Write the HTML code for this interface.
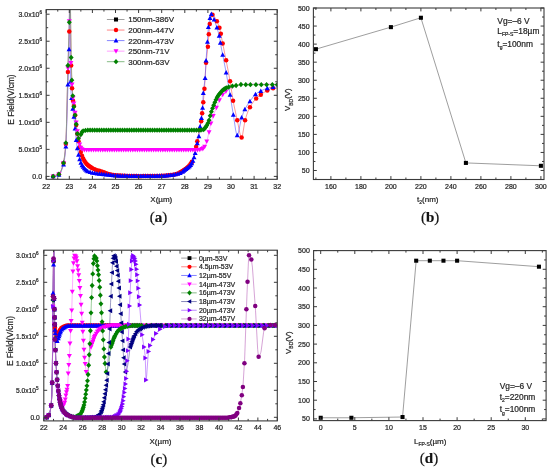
<!DOCTYPE html>
<html><head><meta charset="utf-8"><title>Figure</title>
<style>html,body{margin:0;padding:0;background:#fff;width:550px;height:471px;overflow:hidden}svg{display:block;filter:blur(0.3px)}svg text{stroke:#2a2a2a;stroke-width:0.22px;stroke-linejoin:round}</style>
</head><body>
<svg width="550" height="471" viewBox="0 0 550 471" font-family="'Liberation Sans', Arial, sans-serif">
<rect width="550" height="471" fill="#fff"/>
<defs>
<clipPath id="ca"><rect x="46.2" y="9.6" width="231" height="169.7"/></clipPath>
<clipPath id="cc"><rect x="43.8" y="250.2" width="233.5" height="170.7"/></clipPath>
</defs>
<polyline clip-path="url(#ca)" fill="none" stroke="#f55" stroke-width="0.6" points="53.13,176.4 54.52,176.25 55.9,175.85 58.91,174.24 60.06,172.9 60.98,171.06 62.37,167.12 63.76,161.88 64.68,156.13 65.6,146.91 66.07,139.77 66.53,126.04 67.91,72.04 69.3,31.49 69.99,-18.25 70.22,-10.87 71.15,65.56 72.07,88.27 73,100.7 74.38,109.49 76.23,125.03 78.08,138.47 79.46,146.15 80.85,152.07 82.7,157.57 84.08,160.25 85.47,162.41 86.86,164.13 88.24,165.45 90.55,167.18 92.86,168.52 96.1,169.89 101.64,171.53 109.03,174.09 112.27,174.74 116.89,175.34 125.66,175.84 135.83,176.11 163.09,175.81 167.24,175.51 171.86,174.9 176.02,174.13 177.87,173.48 181.1,171.79 185.26,169.23 188.03,166.91 190.34,164.36 192.19,161.33 193.12,158.8 194.04,155.45 196.81,143.53 199.35,129.9 201.2,121.25 203.74,97.32 204.67,85.41 206.05,62.85 207.9,46.63 209.75,23.92 211.13,17.38 212.06,15.05 212.52,14.73 212.98,14.85 213.91,15.69 215.75,18.9 218.06,23.74 219.91,29.44 228.69,73.4 233.77,104.37 237.47,121.19 239.78,132.78 240.7,136.15 241.16,137.12 241.63,137.47 242.09,136.82 242.55,135.07 244.86,121.1 246.71,114.92 248.09,111.17 249.48,108.08 251.33,104.79 253.18,102.06 255.49,99.27 257.8,97.05 263.34,92.87 266.11,91.04 269.81,89.16 271.66,88.46 273.04,88.27 277.2,88.27"/>
<polyline clip-path="url(#ca)" fill="none" stroke="#55f" stroke-width="0.6" points="53.13,176.4 55.9,175.99 58.91,174.78 60.06,173.64 60.98,171.98 62.37,168.39 63.76,163.57 64.68,158.1 65.6,149.41 66.07,142.95 66.53,131.37 68.84,58.33 69.99,-18.25 70.46,81.78 71.15,93.76 72.53,106.92 73.92,116.92 76.69,143.89 78.77,155.85 80.39,161.6 81.77,164.92 83.16,166.91 85.47,169.64 86.39,170.45 87.78,171.3 89.17,171.92 91.01,172.45 97.48,173.63 114.58,175.54 136.75,176.07 164.47,175.74 174.64,174.57 177.41,174 180.18,173.16 182.03,172.12 188.03,167.48 190.81,164.7 191.73,163.42 192.65,161.54 194.04,157.32 195.43,152.24 198.89,136.39 200.05,126.66 201.43,118 202.59,107.73 203.28,93.13 205.13,77.99 206.05,60.69 208.36,27.17 208.82,23.63 209.75,18.86 210.67,15.45 211.13,14.35 211.36,14.19 212.06,14.73 212.52,15.57 214.83,21.36 218.06,31.36 219.22,35.82 220.84,45.37 225.46,68.91 228.69,86.69 233.77,117.59 235.62,129.95 236.54,134.19 237.01,135.17 237.47,135.2 237.93,134.4 238.39,132.94 241.16,119.15 243.47,112.4 245.32,108.46 247.17,105.3 253.64,96.13 255.49,94.21 257.8,92.58 261.95,90.4 265.19,88.94 271.19,87.34 277.2,87.18"/>
<polyline clip-path="url(#ca)" fill="none" stroke="#f7f" stroke-width="0.6" points="53.13,176.4 54.52,176.25 55.9,175.85 58.91,174.24 60.06,172.9 60.98,171.06 62.37,167.12 63.76,161.88 64.68,156.16 65.6,146.94 66.07,139.69 66.53,125.56 67.91,68.26 68.84,38.8 69.99,-18.25 70.92,62.85 71.61,77.66 72.53,92.16 73,98 74.38,106.79 76.23,122.33 78.08,135.84 79.93,145.29 80.39,146.66 81.31,148.45 82.24,149.36 84.08,149.8 85.47,149.91 198.66,149.91 200.51,149.53 202.36,148.71 203.74,147.69 204.67,146.66 205.59,144.85 207.44,139.08 211.13,122.53 213.91,113.95 218.53,102.27 219.91,99.25 222.22,95.37 223.61,93.67 225.46,91.9 228.69,89.47 231.46,88.08 237.93,85.56 241.16,84.74 244.4,84.19 247.17,83.94 277.2,83.94"/>
<polyline clip-path="url(#ca)" fill="none" stroke="#5a5" stroke-width="0.6" points="53.13,176.4 55.44,176.01 57.75,174.96 59.14,174.06 60.52,172.08 62.37,167.16 63.76,161.85 65.14,151.43 66.07,138.4 66.53,123.65 67.91,65.56 69.3,22.3 69.99,-18.25 70.22,-11.95 71.15,57.45 72.07,85.05 72.76,95.84 73.92,106.67 77.15,132.2 78.08,136.99 78.54,138.35 78.77,138.55 79.46,138.09 79.93,137.47 81.31,133.14 82.7,131.26 84.55,130.57 86.86,130.2 198.66,130.17 202.82,129.85 203.74,129.35 205.13,127.88 206.98,125.2 207.9,123.28 209.29,119.43 210.67,113.95 212.06,109.65 214.83,102.33 217.14,97.32 218.99,94.55 221.76,91.28 223.15,89.89 224.99,88.6 227.3,87.44 229.61,86.7 236.08,85.56 240.7,84.49 245.78,84.64 277.2,84.64"/>
<g clip-path="url(#ca)"><circle cx="53.13" cy="176.4" r="2.25" fill="#f00"/><circle cx="58.91" cy="174.24" r="2.25" fill="#f00"/><circle cx="63.53" cy="162.88" r="2.25" fill="#f00"/><circle cx="65.84" cy="143.96" r="2.25" fill="#f00"/><circle cx="67.91" cy="72.04" r="2.25" fill="#f00"/><circle cx="69.3" cy="31.49" r="2.25" fill="#f00"/><circle cx="71.15" cy="65.56" r="2.25" fill="#f00"/><circle cx="72.07" cy="88.27" r="2.25" fill="#f00"/><circle cx="73" cy="100.7" r="2.25" fill="#f00"/><circle cx="73.92" cy="106.11" r="2.25" fill="#f00"/><circle cx="75.08" cy="115.31" r="2.25" fill="#f00"/><circle cx="76.23" cy="125.03" r="2.25" fill="#f00"/><circle cx="77.39" cy="133.71" r="2.25" fill="#f00"/><circle cx="78.54" cy="141.25" r="2.25" fill="#f00"/><circle cx="79.7" cy="147.27" r="2.25" fill="#f00"/><circle cx="80.85" cy="152.07" r="2.25" fill="#f00"/><circle cx="82.01" cy="155.77" r="2.25" fill="#f00"/><circle cx="83.16" cy="158.56" r="2.25" fill="#f00"/><circle cx="84.32" cy="160.64" r="2.25" fill="#f00"/><circle cx="85.47" cy="162.41" r="2.25" fill="#f00"/><circle cx="86.63" cy="163.88" r="2.25" fill="#f00"/><circle cx="87.78" cy="165.05" r="2.25" fill="#f00"/><circle cx="88.94" cy="166.01" r="2.25" fill="#f00"/><circle cx="90.09" cy="166.86" r="2.25" fill="#f00"/><circle cx="91.25" cy="167.62" r="2.25" fill="#f00"/><circle cx="92.4" cy="168.28" r="2.25" fill="#f00"/><circle cx="94.71" cy="169.37" r="2.25" fill="#f00"/><circle cx="97.02" cy="170.2" r="2.25" fill="#f00"/><circle cx="99.33" cy="170.86" r="2.25" fill="#f00"/><circle cx="101.64" cy="171.53" r="2.25" fill="#f00"/><circle cx="103.95" cy="172.34" r="2.25" fill="#f00"/><circle cx="106.26" cy="173.19" r="2.25" fill="#f00"/><circle cx="108.57" cy="173.96" r="2.25" fill="#f00"/><circle cx="110.88" cy="174.51" r="2.25" fill="#f00"/><circle cx="113.19" cy="174.88" r="2.25" fill="#f00"/><circle cx="115.5" cy="175.19" r="2.25" fill="#f00"/><circle cx="117.81" cy="175.43" r="2.25" fill="#f00"/><circle cx="120.12" cy="175.59" r="2.25" fill="#f00"/><circle cx="122.43" cy="175.7" r="2.25" fill="#f00"/><circle cx="124.74" cy="175.8" r="2.25" fill="#f00"/><circle cx="127.05" cy="175.9" r="2.25" fill="#f00"/><circle cx="129.36" cy="175.98" r="2.25" fill="#f00"/><circle cx="131.67" cy="176.04" r="2.25" fill="#f00"/><circle cx="133.98" cy="176.09" r="2.25" fill="#f00"/><circle cx="136.29" cy="176.12" r="2.25" fill="#f00"/><circle cx="138.6" cy="176.13" r="2.25" fill="#f00"/><circle cx="140.91" cy="176.13" r="2.25" fill="#f00"/><circle cx="143.22" cy="176.12" r="2.25" fill="#f00"/><circle cx="145.53" cy="176.1" r="2.25" fill="#f00"/><circle cx="147.84" cy="176.09" r="2.25" fill="#f00"/><circle cx="150.15" cy="176.06" r="2.25" fill="#f00"/><circle cx="152.46" cy="176.03" r="2.25" fill="#f00"/><circle cx="154.77" cy="176" r="2.25" fill="#f00"/><circle cx="157.08" cy="175.95" r="2.25" fill="#f00"/><circle cx="159.39" cy="175.91" r="2.25" fill="#f00"/><circle cx="161.7" cy="175.86" r="2.25" fill="#f00"/><circle cx="164.01" cy="175.77" r="2.25" fill="#f00"/><circle cx="166.32" cy="175.6" r="2.25" fill="#f00"/><circle cx="168.63" cy="175.36" r="2.25" fill="#f00"/><circle cx="170.94" cy="175.05" r="2.25" fill="#f00"/><circle cx="173.25" cy="174.67" r="2.25" fill="#f00"/><circle cx="175.56" cy="174.24" r="2.25" fill="#f00"/><circle cx="177.87" cy="173.48" r="2.25" fill="#f00"/><circle cx="180.18" cy="172.32" r="2.25" fill="#f00"/><circle cx="181.34" cy="171.66" r="2.25" fill="#f00"/><circle cx="182.49" cy="170.99" r="2.25" fill="#f00"/><circle cx="183.65" cy="170.31" r="2.25" fill="#f00"/><circle cx="184.8" cy="169.56" r="2.25" fill="#f00"/><circle cx="185.96" cy="168.71" r="2.25" fill="#f00"/><circle cx="187.11" cy="167.75" r="2.25" fill="#f00"/><circle cx="188.27" cy="166.69" r="2.25" fill="#f00"/><circle cx="189.42" cy="165.49" r="2.25" fill="#f00"/><circle cx="190.58" cy="164.04" r="2.25" fill="#f00"/><circle cx="191.73" cy="162.22" r="2.25" fill="#f00"/><circle cx="191.96" cy="161.8" r="2.25" fill="#f00"/><circle cx="196.12" cy="146.66" r="2.25" fill="#f00"/><circle cx="197.27" cy="141.25" r="2.25" fill="#f00"/><circle cx="199.35" cy="129.9" r="2.25" fill="#f00"/><circle cx="201.2" cy="121.25" r="2.25" fill="#f00"/><circle cx="202.12" cy="113.14" r="2.25" fill="#f00"/><circle cx="203.28" cy="102.32" r="2.25" fill="#f00"/><circle cx="204.44" cy="88.81" r="2.25" fill="#f00"/><circle cx="206.05" cy="62.85" r="2.25" fill="#f00"/><circle cx="207.9" cy="46.63" r="2.25" fill="#f00"/><circle cx="208.82" cy="34.2" r="2.25" fill="#f00"/><circle cx="209.75" cy="23.92" r="2.25" fill="#f00"/><circle cx="212.52" cy="14.73" r="2.25" fill="#f00"/><circle cx="216.91" cy="21.22" r="2.25" fill="#f00"/><circle cx="219.45" cy="27.71" r="2.25" fill="#f00"/><circle cx="220.84" cy="33.66" r="2.25" fill="#f00"/><circle cx="222.68" cy="43.39" r="2.25" fill="#f00"/><circle cx="226.15" cy="60.15" r="2.25" fill="#f00"/><circle cx="230.08" cy="81.24" r="2.25" fill="#f00"/><circle cx="233.08" cy="100.7" r="2.25" fill="#f00"/><circle cx="237.24" cy="120.17" r="2.25" fill="#f00"/><circle cx="241.63" cy="137.47" r="2.25" fill="#f00"/><circle cx="245.09" cy="120.17" r="2.25" fill="#f00"/><circle cx="249.94" cy="107.19" r="2.25" fill="#f00"/><circle cx="256.18" cy="98.54" r="2.25" fill="#f00"/><circle cx="260.8" cy="94.75" r="2.25" fill="#f00"/><circle cx="267.27" cy="90.43" r="2.25" fill="#f00"/><circle cx="273.04" cy="88.27" r="2.25" fill="#f00"/></g>
<g clip-path="url(#ca)"><path d="M53.13 173.81L55.61 178.31L50.66 178.31Z" fill="#00f"/><path d="M58.91 172.19L61.38 176.69L56.43 176.69Z" fill="#00f"/><path d="M63.53 161.92L66 166.42L61.05 166.42Z" fill="#00f"/><path d="M65.84 144.07L68.31 148.57L63.36 148.57Z" fill="#00f"/><path d="M67.91 81.89L70.39 86.39L65.44 86.39Z" fill="#00f"/><path d="M69.07 46.75L71.54 51.25L66.59 51.25Z" fill="#00f"/><path d="M70.46 79.19L72.93 83.69L67.98 83.69Z" fill="#00f"/><path d="M71.61 95.41L74.09 99.91L69.14 99.91Z" fill="#00f"/><path d="M72.76 106.22L75.24 110.72L70.29 110.72Z" fill="#00f"/><path d="M73.92 114.34L76.39 118.84L71.44 118.84Z" fill="#00f"/><path d="M75.08 126.12L77.55 130.62L72.6 130.62Z" fill="#00f"/><path d="M76.23 137.45L78.71 141.95L73.76 141.95Z" fill="#00f"/><path d="M77.39 145.85L79.86 150.35L74.91 150.35Z" fill="#00f"/><path d="M78.54 152.17L81.02 156.67L76.07 156.67Z" fill="#00f"/><path d="M79.7 156.84L82.17 161.34L77.22 161.34Z" fill="#00f"/><path d="M80.85 160.32L83.33 164.82L78.38 164.82Z" fill="#00f"/><path d="M82.01 162.72L84.48 167.22L79.53 167.22Z" fill="#00f"/><path d="M83.16 164.32L85.64 168.82L80.69 168.82Z" fill="#00f"/><path d="M84.32 165.72L86.79 170.22L81.84 170.22Z" fill="#00f"/><path d="M85.47 167.05L87.95 171.55L83 171.55Z" fill="#00f"/><path d="M86.63 168.02L89.1 172.52L84.15 172.52Z" fill="#00f"/><path d="M87.78 168.71L90.26 173.21L85.31 173.21Z" fill="#00f"/><path d="M90.09 169.62L92.57 174.12L87.62 174.12Z" fill="#00f"/><path d="M92.4 170.15L94.88 174.65L89.93 174.65Z" fill="#00f"/><path d="M94.71 170.57L97.19 175.07L92.24 175.07Z" fill="#00f"/><path d="M97.02 170.97L99.5 175.47L94.55 175.47Z" fill="#00f"/><path d="M99.33 171.32L101.81 175.82L96.86 175.82Z" fill="#00f"/><path d="M101.64 171.59L104.12 176.09L99.17 176.09Z" fill="#00f"/><path d="M103.95 171.82L106.43 176.32L101.48 176.32Z" fill="#00f"/><path d="M106.26 172.05L108.74 176.55L103.79 176.55Z" fill="#00f"/><path d="M108.57 172.32L111.05 176.82L106.1 176.82Z" fill="#00f"/><path d="M110.88 172.61L113.36 177.11L108.41 177.11Z" fill="#00f"/><path d="M113.19 172.85L115.67 177.35L110.72 177.35Z" fill="#00f"/><path d="M115.5 173L117.98 177.5L113.03 177.5Z" fill="#00f"/><path d="M117.81 173.09L120.29 177.59L115.34 177.59Z" fill="#00f"/><path d="M120.12 173.17L122.6 177.67L117.65 177.67Z" fill="#00f"/><path d="M122.43 173.24L124.91 177.74L119.96 177.74Z" fill="#00f"/><path d="M124.74 173.3L127.22 177.8L122.27 177.8Z" fill="#00f"/><path d="M127.05 173.36L129.53 177.86L124.58 177.86Z" fill="#00f"/><path d="M129.36 173.4L131.84 177.9L126.89 177.9Z" fill="#00f"/><path d="M131.67 173.44L134.15 177.94L129.2 177.94Z" fill="#00f"/><path d="M133.98 173.47L136.46 177.97L131.51 177.97Z" fill="#00f"/><path d="M136.29 173.48L138.77 177.98L133.82 177.98Z" fill="#00f"/><path d="M138.6 173.49L141.08 177.99L136.13 177.99Z" fill="#00f"/><path d="M140.91 173.49L143.39 177.99L138.44 177.99Z" fill="#00f"/><path d="M143.22 173.48L145.7 177.98L140.75 177.98Z" fill="#00f"/><path d="M145.53 173.47L148.01 177.97L143.06 177.97Z" fill="#00f"/><path d="M147.84 173.45L150.32 177.95L145.37 177.95Z" fill="#00f"/><path d="M150.15 173.43L152.63 177.93L147.68 177.93Z" fill="#00f"/><path d="M152.46 173.41L154.94 177.91L149.99 177.91Z" fill="#00f"/><path d="M154.77 173.38L157.25 177.88L152.3 177.88Z" fill="#00f"/><path d="M157.08 173.35L159.56 177.85L154.61 177.85Z" fill="#00f"/><path d="M159.39 173.31L161.87 177.81L156.92 177.81Z" fill="#00f"/><path d="M161.7 173.27L164.18 177.77L159.23 177.77Z" fill="#00f"/><path d="M164.01 173.18L166.49 177.68L161.54 177.68Z" fill="#00f"/><path d="M166.32 173.01L168.8 177.51L163.85 177.51Z" fill="#00f"/><path d="M168.63 172.78L171.11 177.28L166.16 177.28Z" fill="#00f"/><path d="M170.94 172.5L173.42 177L168.47 177Z" fill="#00f"/><path d="M173.25 172.19L175.73 176.69L170.78 176.69Z" fill="#00f"/><path d="M175.56 171.81L178.04 176.31L173.09 176.31Z" fill="#00f"/><path d="M177.87 171.29L180.35 175.79L175.4 175.79Z" fill="#00f"/><path d="M180.18 170.57L182.66 175.07L177.71 175.07Z" fill="#00f"/><path d="M182.49 169.2L184.97 173.7L180.02 173.7Z" fill="#00f"/><path d="M183.65 168.27L186.12 172.77L181.17 172.77Z" fill="#00f"/><path d="M184.8 167.32L187.28 171.82L182.33 171.82Z" fill="#00f"/><path d="M185.96 166.45L188.43 170.95L183.48 170.95Z" fill="#00f"/><path d="M187.11 165.6L189.59 170.1L184.64 170.1Z" fill="#00f"/><path d="M188.27 164.7L190.74 169.2L185.79 169.2Z" fill="#00f"/><path d="M189.42 163.66L191.9 168.16L186.95 168.16Z" fill="#00f"/><path d="M190.58 162.4L193.05 166.9L188.1 166.9Z" fill="#00f"/><path d="M191.73 160.84L194.21 165.34L189.26 165.34Z" fill="#00f"/><path d="M192.89 158.35L195.36 162.85L190.41 162.85Z" fill="#00f"/><path d="M194.04 154.74L196.52 159.24L191.57 159.24Z" fill="#00f"/><path d="M195.19 150.56L197.67 155.06L192.72 155.06Z" fill="#00f"/><path d="M197.27 140.83L199.75 145.33L194.8 145.33Z" fill="#00f"/><path d="M198.89 133.8L201.37 138.3L196.42 138.3Z" fill="#00f"/><path d="M200.05 124.07L202.52 128.57L197.57 128.57Z" fill="#00f"/><path d="M201.43 115.42L203.91 119.92L198.96 119.92Z" fill="#00f"/><path d="M202.59 105.14L205.06 109.64L200.11 109.64Z" fill="#00f"/><path d="M203.28 90.54L205.76 95.04L200.81 95.04Z" fill="#00f"/><path d="M205.13 75.41L207.6 79.91L202.65 79.91Z" fill="#00f"/><path d="M206.05 58.1L208.53 62.6L203.58 62.6Z" fill="#00f"/><path d="M207.44 39.18L209.91 43.68L204.96 43.68Z" fill="#00f"/><path d="M208.36 24.58L210.84 29.08L205.89 29.08Z" fill="#00f"/><path d="M209.98 15.39L212.45 19.89L207.5 19.89Z" fill="#00f"/><path d="M211.36 11.6L213.84 16.1L208.89 16.1Z" fill="#00f"/><path d="M214.14 17.01L216.61 21.51L211.66 21.51Z" fill="#00f"/><path d="M216.91 25.12L219.38 29.62L214.43 29.62Z" fill="#00f"/><path d="M219.22 33.23L221.69 37.73L216.74 37.73Z" fill="#00f"/><path d="M220.37 40.26L222.85 44.76L217.9 44.76Z" fill="#00f"/><path d="M222.68 52.16L225.16 56.66L220.21 56.66Z" fill="#00f"/><path d="M226.15 70L228.62 74.5L223.67 74.5Z" fill="#00f"/><path d="M230.08 92.17L232.55 96.67L227.6 96.67Z" fill="#00f"/><path d="M233.31 112.17L235.79 116.67L230.84 116.67Z" fill="#00f"/><path d="M237.24 132.72L239.71 137.22L234.76 137.22Z" fill="#00f"/><path d="M241.63 114.88L244.1 119.38L239.15 119.38Z" fill="#00f"/><path d="M244.86 106.77L247.34 111.27L242.39 111.27Z" fill="#00f"/><path d="M249.94 98.66L252.42 103.16L247.47 103.16Z" fill="#00f"/><path d="M255.49 91.63L257.96 96.13L253.01 96.13Z" fill="#00f"/><path d="M260.8 88.38L263.27 92.88L258.32 92.88Z" fill="#00f"/><path d="M267.27 85.68L269.74 90.18L264.79 90.18Z" fill="#00f"/><path d="M273.04 84.6L275.52 89.1L270.57 89.1Z" fill="#00f"/></g>
<g clip-path="url(#ca)"><path d="M53.13 178.99L55.61 174.49L50.66 174.49Z" fill="#f0f"/><path d="M58.91 176.82L61.38 172.32L56.43 172.32Z" fill="#f0f"/><path d="M63.53 165.47L66 160.97L61.05 160.97Z" fill="#f0f"/><path d="M65.84 146.55L68.31 142.05L63.36 142.05Z" fill="#f0f"/><path d="M67.91 70.85L70.39 66.35L65.44 66.35Z" fill="#f0f"/><path d="M69.3 23.81L71.78 19.31L66.83 19.31Z" fill="#f0f"/><path d="M70.92 65.44L73.39 60.94L68.44 60.94Z" fill="#f0f"/><path d="M72.07 87.07L74.55 82.57L69.6 82.57Z" fill="#f0f"/><path d="M73 100.59L75.47 96.09L70.52 96.09Z" fill="#f0f"/><path d="M73.92 105.99L76.39 101.49L71.44 101.49Z" fill="#f0f"/><path d="M75.08 115.2L77.55 110.7L72.6 110.7Z" fill="#f0f"/><path d="M76.23 124.92L78.71 120.42L73.76 120.42Z" fill="#f0f"/><path d="M77.39 133.67L79.86 129.17L74.91 129.17Z" fill="#f0f"/><path d="M78.54 141.14L81.02 136.64L76.07 136.64Z" fill="#f0f"/><path d="M79.7 146.96L82.17 142.46L77.22 142.46Z" fill="#f0f"/><path d="M80.85 150.21L83.33 145.71L78.38 145.71Z" fill="#f0f"/><path d="M82.01 151.83L84.48 147.33L79.53 147.33Z" fill="#f0f"/><path d="M84.32 152.42L86.79 147.92L81.84 147.92Z" fill="#f0f"/><path d="M86.63 152.49L89.1 147.99L84.15 147.99Z" fill="#f0f"/><path d="M88.94 152.49L91.41 147.99L86.46 147.99Z" fill="#f0f"/><path d="M91.25 152.49L93.72 147.99L88.77 147.99Z" fill="#f0f"/><path d="M93.56 152.49L96.03 147.99L91.08 147.99Z" fill="#f0f"/><path d="M95.87 152.49L98.34 147.99L93.39 147.99Z" fill="#f0f"/><path d="M98.18 152.49L100.65 147.99L95.7 147.99Z" fill="#f0f"/><path d="M100.49 152.49L102.96 147.99L98.01 147.99Z" fill="#f0f"/><path d="M102.8 152.49L105.27 147.99L100.32 147.99Z" fill="#f0f"/><path d="M105.11 152.49L107.58 147.99L102.63 147.99Z" fill="#f0f"/><path d="M107.42 152.49L109.89 147.99L104.94 147.99Z" fill="#f0f"/><path d="M109.73 152.49L112.2 147.99L107.25 147.99Z" fill="#f0f"/><path d="M112.04 152.49L114.51 147.99L109.56 147.99Z" fill="#f0f"/><path d="M114.35 152.49L116.82 147.99L111.87 147.99Z" fill="#f0f"/><path d="M116.66 152.49L119.13 147.99L114.18 147.99Z" fill="#f0f"/><path d="M118.97 152.49L121.44 147.99L116.49 147.99Z" fill="#f0f"/><path d="M121.28 152.49L123.75 147.99L118.8 147.99Z" fill="#f0f"/><path d="M123.59 152.49L126.06 147.99L121.11 147.99Z" fill="#f0f"/><path d="M125.9 152.49L128.37 147.99L123.42 147.99Z" fill="#f0f"/><path d="M128.21 152.49L130.68 147.99L125.73 147.99Z" fill="#f0f"/><path d="M130.52 152.49L132.99 147.99L128.04 147.99Z" fill="#f0f"/><path d="M132.83 152.49L135.3 147.99L130.35 147.99Z" fill="#f0f"/><path d="M135.14 152.49L137.61 147.99L132.66 147.99Z" fill="#f0f"/><path d="M137.45 152.49L139.92 147.99L134.97 147.99Z" fill="#f0f"/><path d="M139.76 152.49L142.23 147.99L137.28 147.99Z" fill="#f0f"/><path d="M142.07 152.49L144.54 147.99L139.59 147.99Z" fill="#f0f"/><path d="M144.38 152.49L146.85 147.99L141.9 147.99Z" fill="#f0f"/><path d="M146.69 152.49L149.16 147.99L144.21 147.99Z" fill="#f0f"/><path d="M149 152.49L151.47 147.99L146.52 147.99Z" fill="#f0f"/><path d="M151.31 152.49L153.78 147.99L148.83 147.99Z" fill="#f0f"/><path d="M153.62 152.49L156.09 147.99L151.14 147.99Z" fill="#f0f"/><path d="M155.93 152.49L158.4 147.99L153.45 147.99Z" fill="#f0f"/><path d="M158.24 152.49L160.71 147.99L155.76 147.99Z" fill="#f0f"/><path d="M160.55 152.49L163.02 147.99L158.07 147.99Z" fill="#f0f"/><path d="M162.86 152.49L165.33 147.99L160.38 147.99Z" fill="#f0f"/><path d="M165.17 152.49L167.64 147.99L162.69 147.99Z" fill="#f0f"/><path d="M167.48 152.49L169.95 147.99L165 147.99Z" fill="#f0f"/><path d="M169.79 152.49L172.26 147.99L167.31 147.99Z" fill="#f0f"/><path d="M172.1 152.49L174.57 147.99L169.62 147.99Z" fill="#f0f"/><path d="M174.41 152.49L176.88 147.99L171.93 147.99Z" fill="#f0f"/><path d="M176.72 152.49L179.19 147.99L174.24 147.99Z" fill="#f0f"/><path d="M179.03 152.49L181.5 147.99L176.55 147.99Z" fill="#f0f"/><path d="M181.34 152.49L183.81 147.99L178.86 147.99Z" fill="#f0f"/><path d="M183.65 152.49L186.12 147.99L181.17 147.99Z" fill="#f0f"/><path d="M185.96 152.49L188.43 147.99L183.48 147.99Z" fill="#f0f"/><path d="M188.27 152.49L190.74 147.99L185.79 147.99Z" fill="#f0f"/><path d="M190.58 152.49L193.05 147.99L188.1 147.99Z" fill="#f0f"/><path d="M192.89 152.49L195.36 147.99L190.41 147.99Z" fill="#f0f"/><path d="M195.2 152.49L197.67 147.99L192.72 147.99Z" fill="#f0f"/><path d="M197.51 152.49L199.98 147.99L195.03 147.99Z" fill="#f0f"/><path d="M199.82 152.33L202.29 147.83L197.34 147.83Z" fill="#f0f"/><path d="M202.13 151.41L204.6 146.91L199.65 146.91Z" fill="#f0f"/><path d="M203.28 150.69L205.76 146.19L200.81 146.19Z" fill="#f0f"/><path d="M204.67 149.25L207.14 144.75L202.19 144.75Z" fill="#f0f"/><path d="M206.75 144.11L209.22 139.61L204.27 139.61Z" fill="#f0f"/><path d="M209.06 134.65L211.53 130.15L206.58 130.15Z" fill="#f0f"/><path d="M210.9 126L213.38 121.5L208.43 121.5Z" fill="#f0f"/><path d="M213.21 118.43L215.69 113.93L210.74 113.93Z" fill="#f0f"/><path d="M216.45 110.32L218.92 105.82L213.97 105.82Z" fill="#f0f"/><path d="M219.45 102.75L221.92 98.25L216.97 98.25Z" fill="#f0f"/><path d="M222.68 97.34L225.16 92.84L220.21 92.84Z" fill="#f0f"/><path d="M225.92 94.1L228.39 89.6L223.44 89.6Z" fill="#f0f"/></g>
<g clip-path="url(#ca)"><path d="M53.13 173.7L55.61 176.4L53.13 179.1L50.66 176.4Z" fill="#008000"/><path d="M58.91 171.54L61.38 174.24L58.91 176.94L56.43 174.24Z" fill="#008000"/><path d="M63.53 160.18L66 162.88L63.53 165.58L61.05 162.88Z" fill="#008000"/><path d="M65.84 140.18L68.31 142.88L65.84 145.58L63.36 142.88Z" fill="#008000"/><path d="M67.91 62.86L70.39 65.56L67.91 68.26L65.44 65.56Z" fill="#008000"/><path d="M69.3 19.6L71.78 22.3L69.3 25L66.83 22.3Z" fill="#008000"/><path d="M71.15 54.75L73.62 57.45L71.15 60.15L68.67 57.45Z" fill="#008000"/><path d="M71.84 77.46L74.32 80.16L71.84 82.86L69.37 80.16Z" fill="#008000"/><path d="M72.76 93.14L75.24 95.84L72.76 98.54L70.29 95.84Z" fill="#008000"/><path d="M73.92 103.97L76.39 106.67L73.92 109.37L71.44 106.67Z" fill="#008000"/><path d="M75.08 112.41L77.55 115.11L75.08 117.81L72.6 115.11Z" fill="#008000"/><path d="M76.23 121.56L78.71 124.26L76.23 126.96L73.76 124.26Z" fill="#008000"/><path d="M77.39 130.98L79.86 133.68L77.39 136.38L74.91 133.68Z" fill="#008000"/><path d="M78.54 135.65L81.02 138.35L78.54 141.05L76.07 138.35Z" fill="#008000"/><path d="M80.85 131.78L83.33 134.48L80.85 137.18L78.38 134.48Z" fill="#008000"/><path d="M82.01 129.34L84.48 132.04L82.01 134.74L79.53 132.04Z" fill="#008000"/><path d="M83.16 128.28L85.64 130.98L83.16 133.68L80.69 130.98Z" fill="#008000"/><path d="M85.47 127.68L87.95 130.38L85.47 133.08L83 130.38Z" fill="#008000"/><path d="M87.78 127.47L90.26 130.17L87.78 132.87L85.31 130.17Z" fill="#008000"/><path d="M90.09 127.47L92.57 130.17L90.09 132.87L87.62 130.17Z" fill="#008000"/><path d="M92.4 127.47L94.88 130.17L92.4 132.87L89.93 130.17Z" fill="#008000"/><path d="M94.71 127.47L97.19 130.17L94.71 132.87L92.24 130.17Z" fill="#008000"/><path d="M97.02 127.47L99.5 130.17L97.02 132.87L94.55 130.17Z" fill="#008000"/><path d="M99.33 127.47L101.81 130.17L99.33 132.87L96.86 130.17Z" fill="#008000"/><path d="M101.64 127.47L104.12 130.17L101.64 132.87L99.17 130.17Z" fill="#008000"/><path d="M103.95 127.47L106.43 130.17L103.95 132.87L101.48 130.17Z" fill="#008000"/><path d="M106.26 127.47L108.74 130.17L106.26 132.87L103.79 130.17Z" fill="#008000"/><path d="M108.57 127.47L111.05 130.17L108.57 132.87L106.1 130.17Z" fill="#008000"/><path d="M110.88 127.47L113.36 130.17L110.88 132.87L108.41 130.17Z" fill="#008000"/><path d="M113.19 127.47L115.67 130.17L113.19 132.87L110.72 130.17Z" fill="#008000"/><path d="M115.5 127.47L117.98 130.17L115.5 132.87L113.03 130.17Z" fill="#008000"/><path d="M117.81 127.47L120.29 130.17L117.81 132.87L115.34 130.17Z" fill="#008000"/><path d="M120.12 127.47L122.6 130.17L120.12 132.87L117.65 130.17Z" fill="#008000"/><path d="M122.43 127.47L124.91 130.17L122.43 132.87L119.96 130.17Z" fill="#008000"/><path d="M124.74 127.47L127.22 130.17L124.74 132.87L122.27 130.17Z" fill="#008000"/><path d="M127.05 127.47L129.53 130.17L127.05 132.87L124.58 130.17Z" fill="#008000"/><path d="M129.36 127.47L131.84 130.17L129.36 132.87L126.89 130.17Z" fill="#008000"/><path d="M131.67 127.47L134.15 130.17L131.67 132.87L129.2 130.17Z" fill="#008000"/><path d="M133.98 127.47L136.46 130.17L133.98 132.87L131.51 130.17Z" fill="#008000"/><path d="M136.29 127.47L138.77 130.17L136.29 132.87L133.82 130.17Z" fill="#008000"/><path d="M138.6 127.47L141.08 130.17L138.6 132.87L136.13 130.17Z" fill="#008000"/><path d="M140.91 127.47L143.39 130.17L140.91 132.87L138.44 130.17Z" fill="#008000"/><path d="M143.22 127.47L145.7 130.17L143.22 132.87L140.75 130.17Z" fill="#008000"/><path d="M145.53 127.47L148.01 130.17L145.53 132.87L143.06 130.17Z" fill="#008000"/><path d="M147.84 127.47L150.32 130.17L147.84 132.87L145.37 130.17Z" fill="#008000"/><path d="M150.15 127.47L152.63 130.17L150.15 132.87L147.68 130.17Z" fill="#008000"/><path d="M152.46 127.47L154.94 130.17L152.46 132.87L149.99 130.17Z" fill="#008000"/><path d="M154.77 127.47L157.25 130.17L154.77 132.87L152.3 130.17Z" fill="#008000"/><path d="M157.08 127.47L159.56 130.17L157.08 132.87L154.61 130.17Z" fill="#008000"/><path d="M159.39 127.47L161.87 130.17L159.39 132.87L156.92 130.17Z" fill="#008000"/><path d="M161.7 127.47L164.18 130.17L161.7 132.87L159.23 130.17Z" fill="#008000"/><path d="M164.01 127.47L166.49 130.17L164.01 132.87L161.54 130.17Z" fill="#008000"/><path d="M166.32 127.47L168.8 130.17L166.32 132.87L163.85 130.17Z" fill="#008000"/><path d="M168.63 127.47L171.11 130.17L168.63 132.87L166.16 130.17Z" fill="#008000"/><path d="M170.94 127.47L173.42 130.17L170.94 132.87L168.47 130.17Z" fill="#008000"/><path d="M173.25 127.47L175.73 130.17L173.25 132.87L170.78 130.17Z" fill="#008000"/><path d="M175.56 127.47L178.04 130.17L175.56 132.87L173.09 130.17Z" fill="#008000"/><path d="M177.87 127.47L180.35 130.17L177.87 132.87L175.4 130.17Z" fill="#008000"/><path d="M180.18 127.47L182.66 130.17L180.18 132.87L177.71 130.17Z" fill="#008000"/><path d="M182.49 127.47L184.97 130.17L182.49 132.87L180.02 130.17Z" fill="#008000"/><path d="M184.8 127.47L187.28 130.17L184.8 132.87L182.33 130.17Z" fill="#008000"/><path d="M187.11 127.47L189.59 130.17L187.11 132.87L184.64 130.17Z" fill="#008000"/><path d="M189.42 127.47L191.9 130.17L189.42 132.87L186.95 130.17Z" fill="#008000"/><path d="M191.73 127.47L194.21 130.17L191.73 132.87L189.26 130.17Z" fill="#008000"/><path d="M194.04 127.47L196.52 130.17L194.04 132.87L191.57 130.17Z" fill="#008000"/><path d="M196.35 127.47L198.83 130.17L196.35 132.87L193.88 130.17Z" fill="#008000"/><path d="M198.66 127.47L201.14 130.17L198.66 132.87L196.19 130.17Z" fill="#008000"/><path d="M200.97 127.37L203.45 130.07L200.97 132.77L198.5 130.07Z" fill="#008000"/><path d="M203.28 126.96L205.76 129.66L203.28 132.36L200.81 129.66Z" fill="#008000"/><path d="M204.44 126.01L206.91 128.71L204.44 131.41L201.96 128.71Z" fill="#008000"/><path d="M205.59 124.56L208.07 127.26L205.59 129.96L203.12 127.26Z" fill="#008000"/><path d="M206.75 122.87L209.22 125.57L206.75 128.27L204.27 125.57Z" fill="#008000"/><path d="M207.9 120.58L210.38 123.28L207.9 125.98L205.43 123.28Z" fill="#008000"/><path d="M209.06 117.47L211.53 120.17L209.06 122.87L206.58 120.17Z" fill="#008000"/><path d="M210.21 113.08L212.69 115.78L210.21 118.48L207.74 115.78Z" fill="#008000"/><path d="M211.37 108.97L213.84 111.67L211.37 114.37L208.89 111.67Z" fill="#008000"/><path d="M212.52 105.66L215 108.36L212.52 111.06L210.05 108.36Z" fill="#008000"/><path d="M213.68 102.55L216.15 105.25L213.68 107.95L211.2 105.25Z" fill="#008000"/><path d="M214.83 99.63L217.31 102.33L214.83 105.03L212.36 102.33Z" fill="#008000"/><path d="M215.99 96.97L218.46 99.67L215.99 102.37L213.51 99.67Z" fill="#008000"/><path d="M217.14 94.62L219.62 97.32L217.14 100.02L214.67 97.32Z" fill="#008000"/><path d="M218.3 92.8L220.77 95.5L218.3 98.2L215.82 95.5Z" fill="#008000"/><path d="M219.45 91.26L221.93 93.96L219.45 96.66L216.98 93.96Z" fill="#008000"/><path d="M220.61 89.89L223.08 92.59L220.61 95.29L218.13 92.59Z" fill="#008000"/><path d="M221.76 88.58L224.24 91.28L221.76 93.98L219.29 91.28Z" fill="#008000"/><path d="M222.92 87.4L225.39 90.1L222.92 92.8L220.44 90.1Z" fill="#008000"/><path d="M224.07 86.49L226.55 89.19L224.07 91.89L221.6 89.19Z" fill="#008000"/><path d="M225.23 85.76L227.7 88.46L225.23 91.16L222.75 88.46Z" fill="#008000"/><path d="M226.38 85.15L228.86 87.85L226.38 90.55L223.91 87.85Z" fill="#008000"/><path d="M228.69 84.26L231.17 86.96L228.69 89.66L226.22 86.96Z" fill="#008000"/><path d="M232.39 83.4L234.86 86.1L232.39 88.8L229.91 86.1Z" fill="#008000"/><path d="M236.08 82.86L238.56 85.56L236.08 88.26L233.61 85.56Z" fill="#008000"/><path d="M240.93 81.78L243.41 84.48L240.93 87.18L238.46 84.48Z" fill="#008000"/><path d="M245.78 81.94L248.26 84.64L245.78 87.34L243.31 84.64Z" fill="#008000"/><path d="M250.4 81.94L252.88 84.64L250.4 87.34L247.93 84.64Z" fill="#008000"/><path d="M255.95 81.94L258.42 84.64L255.95 87.34L253.47 84.64Z" fill="#008000"/><path d="M261.26 81.94L263.74 84.64L261.26 87.34L258.79 84.64Z" fill="#008000"/><path d="M266.57 81.94L269.05 84.64L266.57 87.34L264.1 84.64Z" fill="#008000"/><path d="M272.35 81.94L274.82 84.64L272.35 87.34L269.87 84.64Z" fill="#008000"/><path d="M277.2 81.94L279.68 84.64L277.2 87.34L274.72 84.64Z" fill="#008000"/></g>
<polyline clip-path="url(#cc)" fill="none" stroke="#f55" stroke-width="0.6" points="46.52,417.3 47.5,416.75 48.86,414.82 49.64,413.05 50.22,410.99 51.19,405.42 51.78,395.38 52.36,370.11 53.72,239.1 54.11,298.5 54.7,324.42 55.38,330.9 56.45,336.3 56.84,337.4 57.23,337.92 57.81,336.7 58.88,332.52 59.95,330.1 60.73,328.85 61.9,327.76 63.26,326.9 65.6,325.89 67.15,325.51 277.32,325.5"/>
<polyline clip-path="url(#cc)" fill="none" stroke="#55f" stroke-width="0.6" points="46.52,417.3 47.5,416.75 48.86,414.82 49.64,413.05 50.22,410.99 51.19,405.42 51.78,395.41 52.36,369.36 52.95,301.41 53.53,264.48 53.72,239.1 54.11,298.5 54.7,324.42 54.99,329.82 55.77,336.3 56.45,339.54 56.84,340.63 57.23,341.16 57.81,340.15 60.34,331.91 60.92,330.75 62.09,329.23 63.84,327.72 66.37,326.34 67.93,325.96 71.24,325.56 277.32,325.5"/>
<polyline clip-path="url(#cc)" fill="none" stroke="#f7f" stroke-width="0.6" points="46.52,417.3 47.5,416.75 48.86,414.82 49.64,413.05 50.22,410.99 51.19,405.42 51.78,395.24 52.36,371.85 53.72,239.1 54.31,309.3 55.09,342.2 55.96,363.3 57.23,381.06 58.78,393.76 59.56,397.58 60.54,400.89 62.09,404.2 63.07,405.38 64.04,405.42 64.43,404.23 66.18,393.54 67.35,387.98 67.74,384.9 68.32,371.4 69.29,357.81 71.82,308.23 72.99,269.26 73.96,259.01 74.55,255.94 74.94,255.3 75.33,255.56 75.71,256.27 76.69,259.36 79.22,279.94 80.38,294.56 84.28,353.92 85.25,364.89 86.2,371.94 86.81,371.33 87.58,369.57 88.56,365.66 89.34,360.99 91,347.1 91.67,344.72 94.4,337.16 97.31,331.81 98.68,330.25 100.04,329.2 101.79,328.2 104.32,327.1 106.46,326.43 110.16,325.73 112.88,325.5 277.32,325.5"/>
<polyline clip-path="url(#cc)" fill="none" stroke="#5a5" stroke-width="0.6" points="46.52,417.3 47.5,416.75 48.86,414.82 49.64,413.05 50.22,410.99 51.19,405.42 51.78,395.33 52.36,370.78 53.72,239.1 54.11,298.5 54.99,339 55.96,363.3 57.23,380.83 58.2,390.29 59.17,397.39 60.34,403.59 61.51,407.46 62.68,410.12 64.82,412.94 66.96,414.64 70.07,416.17 73.18,417.24 74.55,417.23 75.91,416.74 78.83,415.21 80.4,414.06 81.55,412.29 82.91,408.76 84.08,404.68 84.86,400.27 87.2,383.48 88.3,371.4 90.11,337.61 91.3,303.9 93.03,268.3 93.6,260.7 94.4,256.3 94.9,255.3 95.56,256.09 96.54,259.11 99.07,279.41 100.23,293.83 104.32,355.83 105.29,366.18 106.1,371.94 106.66,371.42 107.43,369.7 108.6,364.92 109.19,361.39 110.35,350.72 110.94,346.94 114.2,337.38 116.97,332.22 118.33,330.48 119.69,329.37 121.25,328.43 123.78,327.27 125.92,326.54 129.81,325.77 132.73,325.5 277.32,325.5"/>
<polyline clip-path="url(#cc)" fill="none" stroke="#559" stroke-width="0.6" points="46.52,417.3 47.5,416.75 48.86,414.82 49.64,413.05 50.22,410.99 51.19,405.42 51.78,395.33 52.36,370.78 53.72,239.1 54.11,298.5 54.99,339.54 55.87,361.52 57.23,380.8 58.2,390.29 59.17,397.39 60.34,403.59 61.51,407.46 62.68,410.12 64.82,412.94 66.96,414.64 70.07,416.17 73.96,417.52 75.71,417.84 93.23,417.3 94.2,417.11 98.29,415.06 99.84,413.79 101.4,410.78 103.1,405.42 103.93,401.11 106.07,386.11 107.43,372.32 109.19,340.41 110.55,302.73 112.3,267.13 112.8,260.7 113.47,256.83 114.05,255.31 114.44,255.52 114.83,256.23 115.8,259.45 118.33,280.1 119.5,294.78 123.39,354.12 124.36,365.02 125.3,371.94 125.92,371.3 126.7,369.53 127.67,365.59 128.45,360.87 130.1,347.1 130.79,344.68 133.4,337.38 136.23,332.11 137.4,330.6 140.13,328.6 144.6,326.69 148.88,325.79 152,325.5 277.32,325.5"/>
<polyline clip-path="url(#cc)" fill="none" stroke="#a5f" stroke-width="0.6" points="46.52,417.3 47.5,416.75 48.86,414.82 49.64,413.05 50.22,410.99 51.19,405.42 51.78,395.24 52.36,371.81 53.72,239.1 54.11,298.5 54.99,339.54 55.87,361.52 57.23,380.8 58.2,390.29 59.17,397.39 60.34,403.59 61.51,407.46 62.68,410.12 64.82,412.94 66.96,414.64 70.07,416.17 73.96,417.52 75.71,417.84 112.49,417.29 114.25,416.72 118.14,414.56 119.3,413.28 120.47,410.86 122.22,405.33 123,401.29 125.14,386.34 126.31,375.21 128.26,341.02 129.62,303.44 131.37,267.65 131.9,260.7 132.54,256.96 133.12,255.33 133.51,255.51 134.09,256.75 135.46,261.55 136.04,264.99 137.01,273.79 141.68,330.72 142.46,337.42 144.6,351.1 145.19,356.41 146,380.04 146.35,378.72 146.74,374.83 148.3,352.9 148.88,349.45 149.86,345.88 150.83,343.51 152.97,339.6 155.11,335.11 156.47,332.95 158.03,331.06 159.59,329.6 161.92,328 164.06,326.92 167.57,325.83 169.9,325.5 277.32,325.5"/>
<polyline clip-path="url(#cc)" fill="none" stroke="#b6b" stroke-width="0.6" points="46.52,417.3 47.5,416.75 48.86,414.82 49.64,413.05 50.22,410.99 51.19,405.42 51.78,395.38 52.36,370.24 53.72,239.1 54.11,298.5 54.99,339.54 55.96,363.3 57.42,382.91 58.39,391.9 59.37,398.58 60.34,403.59 61.7,407.99 62.87,410.43 65.01,413.14 67.15,414.76 70.27,416.25 74.16,417.57 75.91,417.84 227.7,417.84 229.45,417.34 233.34,416.67 234.51,416.17 235.48,415.41 236.84,413.8 237.62,412.36 238.79,409.06 239.96,404.93 241.81,395.16 243.07,384.98 244.63,359.16 246.96,294.84 248.52,259.93 249.01,255.3 249.49,255.54 250.08,256.39 251.44,259.95 252.41,267.09 255.52,310.36 257.67,349.4 258.44,356.48 258.64,356.82 258.83,356.77 259.61,355.66 260.78,352.5 261.17,350.91 263.5,332.87 264.09,329.54 264.48,328.34 266.81,326.21 269.15,325.12 270.31,324.96 277.32,324.96"/>
<g clip-path="url(#cc)"><circle cx="46.52" cy="417.3" r="2.25" fill="#f00"/><circle cx="48.66" cy="415.14" r="2.25" fill="#f00"/><circle cx="51.19" cy="405.42" r="2.25" fill="#f00"/><circle cx="52.17" cy="382.74" r="2.25" fill="#f00"/><circle cx="53.04" cy="296.34" r="2.25" fill="#f00"/><circle cx="53.53" cy="261.24" r="2.25" fill="#f00"/><circle cx="54.11" cy="298.5" r="2.25" fill="#f00"/><circle cx="54.31" cy="309.3" r="2.25" fill="#f00"/><circle cx="54.5" cy="317.4" r="2.25" fill="#f00"/><circle cx="54.7" cy="324.42" r="2.25" fill="#f00"/><circle cx="54.99" cy="327.66" r="2.25" fill="#f00"/><circle cx="55.38" cy="330.9" r="2.25" fill="#f00"/><circle cx="55.96" cy="333.63" r="2.25" fill="#f00"/><circle cx="56.55" cy="336.6" r="2.25" fill="#f00"/><circle cx="57.13" cy="337.88" r="2.25" fill="#f00"/><circle cx="58.3" cy="334.66" r="2.25" fill="#f00"/><circle cx="58.88" cy="332.52" r="2.25" fill="#f00"/><circle cx="59.47" cy="331.13" r="2.25" fill="#f00"/><circle cx="60.05" cy="329.91" r="2.25" fill="#f00"/><circle cx="61.22" cy="328.35" r="2.25" fill="#f00"/><circle cx="62.38" cy="327.41" r="2.25" fill="#f00"/><circle cx="63.55" cy="326.76" r="2.25" fill="#f00"/><circle cx="65.3" cy="326" r="2.25" fill="#f00"/><circle cx="67.05" cy="325.52" r="2.25" fill="#f00"/><circle cx="68.81" cy="325.5" r="2.25" fill="#f00"/><circle cx="70.56" cy="325.5" r="2.25" fill="#f00"/><circle cx="72.31" cy="325.5" r="2.25" fill="#f00"/><circle cx="74.06" cy="325.5" r="2.25" fill="#f00"/><circle cx="75.81" cy="325.5" r="2.25" fill="#f00"/><circle cx="77.56" cy="325.5" r="2.25" fill="#f00"/><circle cx="79.31" cy="325.5" r="2.25" fill="#f00"/><circle cx="81.07" cy="325.5" r="2.25" fill="#f00"/><circle cx="82.82" cy="325.5" r="2.25" fill="#f00"/><circle cx="84.57" cy="325.5" r="2.25" fill="#f00"/><circle cx="86.32" cy="325.5" r="2.25" fill="#f00"/><circle cx="88.07" cy="325.5" r="2.25" fill="#f00"/><circle cx="89.82" cy="325.5" r="2.25" fill="#f00"/><circle cx="91.57" cy="325.5" r="2.25" fill="#f00"/><circle cx="93.33" cy="325.5" r="2.25" fill="#f00"/><circle cx="95.08" cy="325.5" r="2.25" fill="#f00"/><circle cx="96.83" cy="325.5" r="2.25" fill="#f00"/><circle cx="98.58" cy="325.5" r="2.25" fill="#f00"/><circle cx="100.33" cy="325.5" r="2.25" fill="#f00"/><circle cx="102.08" cy="325.5" r="2.25" fill="#f00"/><circle cx="103.83" cy="325.5" r="2.25" fill="#f00"/><circle cx="105.59" cy="325.5" r="2.25" fill="#f00"/><circle cx="107.34" cy="325.5" r="2.25" fill="#f00"/><circle cx="109.09" cy="325.5" r="2.25" fill="#f00"/><circle cx="110.84" cy="325.5" r="2.25" fill="#f00"/><circle cx="112.59" cy="325.5" r="2.25" fill="#f00"/><circle cx="114.34" cy="325.5" r="2.25" fill="#f00"/><circle cx="116.09" cy="325.5" r="2.25" fill="#f00"/><circle cx="117.85" cy="325.5" r="2.25" fill="#f00"/><circle cx="119.6" cy="325.5" r="2.25" fill="#f00"/><circle cx="121.35" cy="325.5" r="2.25" fill="#f00"/><circle cx="126.5" cy="325.5" r="2.25" fill="#f00"/><circle cx="131.37" cy="325.5" r="2.25" fill="#f00"/><circle cx="136.24" cy="325.5" r="2.25" fill="#f00"/><circle cx="141.1" cy="325.5" r="2.25" fill="#f00"/><circle cx="145.97" cy="325.5" r="2.25" fill="#f00"/><circle cx="150.83" cy="325.5" r="2.25" fill="#f00"/><circle cx="155.69" cy="325.5" r="2.25" fill="#f00"/><circle cx="160.56" cy="325.5" r="2.25" fill="#f00"/><circle cx="165.43" cy="325.5" r="2.25" fill="#f00"/><circle cx="170.29" cy="325.5" r="2.25" fill="#f00"/><circle cx="175.16" cy="325.5" r="2.25" fill="#f00"/><circle cx="180.02" cy="325.5" r="2.25" fill="#f00"/><circle cx="184.88" cy="325.5" r="2.25" fill="#f00"/><circle cx="189.75" cy="325.5" r="2.25" fill="#f00"/><circle cx="194.62" cy="325.5" r="2.25" fill="#f00"/><circle cx="199.48" cy="325.5" r="2.25" fill="#f00"/><circle cx="204.35" cy="325.5" r="2.25" fill="#f00"/><circle cx="209.21" cy="325.5" r="2.25" fill="#f00"/><circle cx="214.07" cy="325.5" r="2.25" fill="#f00"/><circle cx="218.94" cy="325.5" r="2.25" fill="#f00"/><circle cx="223.81" cy="325.5" r="2.25" fill="#f00"/><circle cx="228.67" cy="325.5" r="2.25" fill="#f00"/><circle cx="233.54" cy="325.5" r="2.25" fill="#f00"/><circle cx="238.4" cy="325.5" r="2.25" fill="#f00"/><circle cx="243.26" cy="325.5" r="2.25" fill="#f00"/><circle cx="248.13" cy="325.5" r="2.25" fill="#f00"/><circle cx="253" cy="325.5" r="2.25" fill="#f00"/><circle cx="257.86" cy="325.5" r="2.25" fill="#f00"/><circle cx="262.73" cy="325.5" r="2.25" fill="#f00"/><circle cx="267.59" cy="325.5" r="2.25" fill="#f00"/><circle cx="272.45" cy="325.5" r="2.25" fill="#f00"/><circle cx="277.32" cy="325.5" r="2.25" fill="#f00"/></g>
<g clip-path="url(#cc)"><path d="M46.52 414.71L49 419.21L44.05 419.21Z" fill="#00f"/><path d="M48.66 412.55L51.14 417.05L46.19 417.05Z" fill="#00f"/><path d="M51.19 402.83L53.67 407.33L48.72 407.33Z" fill="#00f"/><path d="M52.17 380.15L54.64 384.65L49.69 384.65Z" fill="#00f"/><path d="M53.04 290.51L55.52 295.01L50.57 295.01Z" fill="#00f"/><path d="M53.53 261.89L56.01 266.39L51.05 266.39Z" fill="#00f"/><path d="M54.11 295.91L56.59 300.41L51.64 300.41Z" fill="#00f"/><path d="M54.31 306.71L56.78 311.21L51.83 311.21Z" fill="#00f"/><path d="M54.5 314.81L56.98 319.31L52.03 319.31Z" fill="#00f"/><path d="M54.7 321.83L57.17 326.33L52.22 326.33Z" fill="#00f"/><path d="M54.99 327.23L57.46 331.73L52.51 331.73Z" fill="#00f"/><path d="M55.38 330.47L57.85 334.97L52.9 334.97Z" fill="#00f"/><path d="M55.96 334.86L58.44 339.36L53.49 339.36Z" fill="#00f"/><path d="M56.55 337.24L59.02 341.74L54.07 341.74Z" fill="#00f"/><path d="M57.13 338.53L59.61 343.03L54.66 343.03Z" fill="#00f"/><path d="M58.3 335.8L60.77 340.3L55.82 340.3Z" fill="#00f"/><path d="M58.88 333.71L61.36 338.21L56.41 338.21Z" fill="#00f"/><path d="M59.47 331.92L61.94 336.42L56.99 336.42Z" fill="#00f"/><path d="M60.05 330.12L62.52 334.62L57.57 334.62Z" fill="#00f"/><path d="M60.63 328.66L63.11 333.16L58.16 333.16Z" fill="#00f"/><path d="M61.8 326.97L64.28 331.47L59.33 331.47Z" fill="#00f"/><path d="M62.97 325.79L65.44 330.29L60.49 330.29Z" fill="#00f"/><path d="M64.14 324.95L66.61 329.45L61.66 329.45Z" fill="#00f"/><path d="M65.3 324.25L67.78 328.75L62.83 328.75Z" fill="#00f"/><path d="M67.05 323.54L69.53 328.04L64.58 328.04Z" fill="#00f"/><path d="M68.81 323.24L71.28 327.74L66.33 327.74Z" fill="#00f"/><path d="M70.56 323.03L73.03 327.53L68.08 327.53Z" fill="#00f"/><path d="M72.31 322.92L74.78 327.42L69.83 327.42Z" fill="#00f"/><path d="M74.06 322.91L76.54 327.41L71.59 327.41Z" fill="#00f"/><path d="M75.81 322.91L78.29 327.41L73.34 327.41Z" fill="#00f"/><path d="M77.56 322.91L80.04 327.41L75.09 327.41Z" fill="#00f"/><path d="M79.31 322.91L81.79 327.41L76.84 327.41Z" fill="#00f"/><path d="M81.07 322.91L83.54 327.41L78.59 327.41Z" fill="#00f"/><path d="M82.82 322.91L85.29 327.41L80.34 327.41Z" fill="#00f"/><path d="M84.57 322.91L87.04 327.41L82.09 327.41Z" fill="#00f"/><path d="M86.32 322.91L88.8 327.41L83.85 327.41Z" fill="#00f"/><path d="M88.07 322.91L90.55 327.41L85.6 327.41Z" fill="#00f"/><path d="M89.82 322.91L92.3 327.41L87.35 327.41Z" fill="#00f"/><path d="M91.57 322.91L94.05 327.41L89.1 327.41Z" fill="#00f"/><path d="M93.33 322.91L95.8 327.41L90.85 327.41Z" fill="#00f"/><path d="M95.08 322.91L97.55 327.41L92.6 327.41Z" fill="#00f"/><path d="M96.83 322.91L99.3 327.41L94.35 327.41Z" fill="#00f"/><path d="M98.58 322.91L101.05 327.41L96.1 327.41Z" fill="#00f"/><path d="M100.33 322.91L102.81 327.41L97.86 327.41Z" fill="#00f"/><path d="M102.08 322.91L104.56 327.41L99.61 327.41Z" fill="#00f"/><path d="M103.83 322.91L106.31 327.41L101.36 327.41Z" fill="#00f"/><path d="M105.59 322.91L108.06 327.41L103.11 327.41Z" fill="#00f"/><path d="M107.34 322.91L109.81 327.41L104.86 327.41Z" fill="#00f"/><path d="M109.09 322.91L111.56 327.41L106.61 327.41Z" fill="#00f"/><path d="M110.84 322.91L113.31 327.41L108.36 327.41Z" fill="#00f"/><path d="M112.59 322.91L115.07 327.41L110.12 327.41Z" fill="#00f"/><path d="M114.34 322.91L116.82 327.41L111.87 327.41Z" fill="#00f"/><path d="M116.09 322.91L118.57 327.41L113.62 327.41Z" fill="#00f"/><path d="M117.85 322.91L120.32 327.41L115.37 327.41Z" fill="#00f"/><path d="M119.6 322.91L122.07 327.41L117.12 327.41Z" fill="#00f"/><path d="M121.35 322.91L123.82 327.41L118.87 327.41Z" fill="#00f"/><path d="M123.59 322.91L126.06 327.41L121.11 327.41Z" fill="#00f"/><path d="M128.45 322.91L130.93 327.41L125.98 327.41Z" fill="#00f"/><path d="M133.32 322.91L135.79 327.41L130.84 327.41Z" fill="#00f"/><path d="M138.18 322.91L140.66 327.41L135.71 327.41Z" fill="#00f"/><path d="M143.05 322.91L145.52 327.41L140.57 327.41Z" fill="#00f"/><path d="M147.91 322.91L150.39 327.41L145.44 327.41Z" fill="#00f"/><path d="M152.78 322.91L155.25 327.41L150.3 327.41Z" fill="#00f"/><path d="M157.64 322.91L160.12 327.41L155.17 327.41Z" fill="#00f"/><path d="M162.51 322.91L164.98 327.41L160.03 327.41Z" fill="#00f"/><path d="M167.37 322.91L169.85 327.41L164.9 327.41Z" fill="#00f"/><path d="M172.24 322.91L174.71 327.41L169.76 327.41Z" fill="#00f"/><path d="M177.1 322.91L179.58 327.41L174.63 327.41Z" fill="#00f"/><path d="M181.97 322.91L184.44 327.41L179.49 327.41Z" fill="#00f"/><path d="M186.83 322.91L189.31 327.41L184.36 327.41Z" fill="#00f"/><path d="M191.7 322.91L194.17 327.41L189.22 327.41Z" fill="#00f"/><path d="M196.56 322.91L199.04 327.41L194.09 327.41Z" fill="#00f"/><path d="M201.43 322.91L203.9 327.41L198.95 327.41Z" fill="#00f"/><path d="M206.29 322.91L208.77 327.41L203.82 327.41Z" fill="#00f"/><path d="M211.16 322.91L213.63 327.41L208.68 327.41Z" fill="#00f"/><path d="M216.02 322.91L218.5 327.41L213.55 327.41Z" fill="#00f"/><path d="M220.89 322.91L223.36 327.41L218.41 327.41Z" fill="#00f"/><path d="M225.75 322.91L228.23 327.41L223.28 327.41Z" fill="#00f"/><path d="M230.62 322.91L233.09 327.41L228.14 327.41Z" fill="#00f"/><path d="M235.48 322.91L237.96 327.41L233.01 327.41Z" fill="#00f"/><path d="M240.35 322.91L242.82 327.41L237.87 327.41Z" fill="#00f"/><path d="M245.21 322.91L247.69 327.41L242.74 327.41Z" fill="#00f"/><path d="M250.08 322.91L252.55 327.41L247.6 327.41Z" fill="#00f"/><path d="M254.94 322.91L257.42 327.41L252.47 327.41Z" fill="#00f"/><path d="M259.81 322.91L262.28 327.41L257.33 327.41Z" fill="#00f"/><path d="M264.67 322.91L267.15 327.41L262.2 327.41Z" fill="#00f"/><path d="M269.54 322.91L272.01 327.41L267.06 327.41Z" fill="#00f"/><path d="M274.4 322.91L276.88 327.41L271.93 327.41Z" fill="#00f"/></g>
<g clip-path="url(#cc)"><path d="M46.52 419.89L49 415.39L44.05 415.39Z" fill="#f0f"/><path d="M48.66 417.73L51.14 413.23L46.19 413.23Z" fill="#f0f"/><path d="M51.19 408.01L53.67 403.51L48.72 403.51Z" fill="#f0f"/><path d="M52.17 385.33L54.64 380.83L49.69 380.83Z" fill="#f0f"/><path d="M53.04 309.19L55.52 304.69L50.57 304.69Z" fill="#f0f"/><path d="M53.53 262.21L56.01 257.71L51.05 257.71Z" fill="#f0f"/><path d="M54.11 301.09L56.59 296.59L51.64 296.59Z" fill="#f0f"/><path d="M54.31 311.89L56.78 307.39L51.83 307.39Z" fill="#f0f"/><path d="M54.5 319.99L56.98 315.49L52.03 315.49Z" fill="#f0f"/><path d="M54.7 327.01L57.17 322.51L52.22 322.51Z" fill="#f0f"/><path d="M54.99 341.59L57.46 337.09L52.51 337.09Z" fill="#f0f"/><path d="M55.38 352.39L57.85 347.89L52.9 347.89Z" fill="#f0f"/><path d="M55.96 365.89L58.44 361.39L53.49 361.39Z" fill="#f0f"/><path d="M56.55 375.14L59.02 370.64L54.07 370.64Z" fill="#f0f"/><path d="M57.13 382.57L59.61 378.07L54.66 378.07Z" fill="#f0f"/><path d="M57.71 388.35L60.19 383.85L55.24 383.85Z" fill="#f0f"/><path d="M58.3 393.07L60.77 388.57L55.82 388.57Z" fill="#f0f"/><path d="M58.88 396.93L61.36 392.43L56.41 392.43Z" fill="#f0f"/><path d="M59.47 399.77L61.94 395.27L56.99 395.27Z" fill="#f0f"/><path d="M60.05 401.97L62.52 397.47L57.57 397.47Z" fill="#f0f"/><path d="M60.63 403.74L63.11 399.24L58.16 399.24Z" fill="#f0f"/><path d="M61.22 405.12L63.69 400.62L58.74 400.62Z" fill="#f0f"/><path d="M62.38 407.27L64.86 402.77L59.91 402.77Z" fill="#f0f"/><path d="M63.55 408.01L66.03 403.51L61.08 403.51Z" fill="#f0f"/><path d="M64.72 405.31L67.19 400.81L62.24 400.81Z" fill="#f0f"/><path d="M65.3 401.91L67.78 397.41L62.83 397.41Z" fill="#f0f"/><path d="M65.89 397.96L68.36 393.46L63.41 393.46Z" fill="#f0f"/><path d="M66.47 394.63L68.95 390.13L64 390.13Z" fill="#f0f"/><path d="M67.05 392.14L69.53 387.64L64.58 387.64Z" fill="#f0f"/><path d="M67.64 388.39L70.11 383.89L65.16 383.89Z" fill="#f0f"/><path d="M68.22 376L70.7 371.5L65.75 371.5Z" fill="#f0f"/><path d="M68.81 367.61L71.28 363.11L66.33 363.11Z" fill="#f0f"/><path d="M69.39 358.56L71.86 354.06L66.91 354.06Z" fill="#f0f"/><path d="M69.97 346.08L72.45 341.58L67.5 341.58Z" fill="#f0f"/><path d="M70.56 333.49L73.03 328.99L68.08 328.99Z" fill="#f0f"/><path d="M71.14 323.45L73.62 318.95L68.67 318.95Z" fill="#f0f"/><path d="M71.73 312.97L74.2 308.47L69.25 308.47Z" fill="#f0f"/><path d="M72.31 294.23L74.78 289.73L69.83 289.73Z" fill="#f0f"/><path d="M72.89 274.07L75.37 269.57L70.42 269.57Z" fill="#f0f"/><path d="M73.48 265.7L75.95 261.2L71 261.2Z" fill="#f0f"/><path d="M74.06 260.93L76.54 256.43L71.59 256.43Z" fill="#f0f"/><path d="M74.64 258.25L77.12 253.75L72.17 253.75Z" fill="#f0f"/><path d="M75.81 259.09L78.29 254.59L73.34 254.59Z" fill="#f0f"/><path d="M76.4 260.79L78.87 256.29L73.92 256.29Z" fill="#f0f"/><path d="M76.98 263.87L79.45 259.37L74.5 259.37Z" fill="#f0f"/><path d="M77.56 268.69L80.04 264.19L75.09 264.19Z" fill="#f0f"/><path d="M78.15 273.09L80.62 268.59L75.67 268.59Z" fill="#f0f"/><path d="M78.73 277.78L81.21 273.28L76.26 273.28Z" fill="#f0f"/><path d="M79.31 283.58L81.79 279.08L76.84 279.08Z" fill="#f0f"/><path d="M79.9 290.44L82.37 285.94L77.42 285.94Z" fill="#f0f"/><path d="M80.48 298.57L82.96 294.07L78.01 294.07Z" fill="#f0f"/><path d="M81.07 307.2L83.54 302.7L78.59 302.7Z" fill="#f0f"/><path d="M81.65 316.19L84.12 311.69L79.17 311.69Z" fill="#f0f"/><path d="M82.23 325.21L84.71 320.71L79.76 320.71Z" fill="#f0f"/><path d="M82.82 334.28L85.29 329.78L80.34 329.78Z" fill="#f0f"/><path d="M83.4 343.22L85.88 338.72L80.93 338.72Z" fill="#f0f"/><path d="M83.98 352.25L86.46 347.75L81.51 347.75Z" fill="#f0f"/><path d="M84.57 360.23L87.04 355.73L82.09 355.73Z" fill="#f0f"/><path d="M85.15 366.55L87.63 362.05L82.68 362.05Z" fill="#f0f"/><path d="M86.2 374.53L88.67 370.03L83.73 370.03Z" fill="#f0f"/><path d="M91 349.69L93.47 345.19L88.53 345.19Z" fill="#f0f"/><path d="M91.58 347.57L94.06 343.07L89.11 343.07Z" fill="#f0f"/><path d="M92.17 345.97L94.64 341.47L89.69 341.47Z" fill="#f0f"/><path d="M92.75 344.43L95.23 339.93L90.28 339.93Z" fill="#f0f"/><path d="M93.34 342.66L95.81 338.16L90.86 338.16Z" fill="#f0f"/><path d="M93.92 340.94L96.39 336.44L91.44 336.44Z" fill="#f0f"/><path d="M94.5 339.52L96.98 335.02L92.03 335.02Z" fill="#f0f"/><path d="M95.09 338.35L97.56 333.85L92.61 333.85Z" fill="#f0f"/><path d="M96.25 336.27L98.73 331.77L93.78 331.77Z" fill="#f0f"/><path d="M97.42 334.24L99.9 329.74L94.95 329.74Z" fill="#f0f"/><path d="M98.59 332.92L101.06 328.42L96.11 328.42Z" fill="#f0f"/><path d="M99.76 331.98L102.23 327.48L97.28 327.48Z" fill="#f0f"/><path d="M100.92 331.25L103.4 326.75L98.45 326.75Z" fill="#f0f"/><path d="M102.09 330.65L104.57 326.15L99.62 326.15Z" fill="#f0f"/><path d="M103.84 329.87L106.32 325.37L101.37 325.37Z" fill="#f0f"/><path d="M105.59 329.25L108.07 324.75L103.12 324.75Z" fill="#f0f"/><path d="M107.35 328.83L109.82 324.33L104.87 324.33Z" fill="#f0f"/><path d="M109.1 328.49L111.57 323.99L106.62 323.99Z" fill="#f0f"/><path d="M110.85 328.23L113.32 323.73L108.37 323.73Z" fill="#f0f"/><path d="M112.6 328.09L115.08 323.59L110.13 323.59Z" fill="#f0f"/><path d="M114.35 328.09L116.83 323.59L111.88 323.59Z" fill="#f0f"/><path d="M116.1 328.09L118.58 323.59L113.63 323.59Z" fill="#f0f"/><path d="M117.85 328.09L120.33 323.59L115.38 323.59Z" fill="#f0f"/><path d="M119.61 328.09L122.08 323.59L117.13 323.59Z" fill="#f0f"/><path d="M121.36 328.09L123.83 323.59L118.88 323.59Z" fill="#f0f"/><path d="M123.11 328.09L125.58 323.59L120.63 323.59Z" fill="#f0f"/><path d="M124.86 328.09L127.34 323.59L122.39 323.59Z" fill="#f0f"/><path d="M126.99 328.09L129.47 323.59L124.52 323.59Z" fill="#f0f"/><path d="M131.86 328.09L134.33 323.59L129.38 323.59Z" fill="#f0f"/><path d="M136.72 328.09L139.2 323.59L134.25 323.59Z" fill="#f0f"/><path d="M141.59 328.09L144.06 323.59L139.11 323.59Z" fill="#f0f"/><path d="M146.45 328.09L148.93 323.59L143.98 323.59Z" fill="#f0f"/><path d="M151.32 328.09L153.79 323.59L148.84 323.59Z" fill="#f0f"/><path d="M156.18 328.09L158.66 323.59L153.71 323.59Z" fill="#f0f"/><path d="M161.05 328.09L163.52 323.59L158.57 323.59Z" fill="#f0f"/><path d="M165.91 328.09L168.39 323.59L163.44 323.59Z" fill="#f0f"/><path d="M170.78 328.09L173.25 323.59L168.3 323.59Z" fill="#f0f"/><path d="M175.64 328.09L178.12 323.59L173.17 323.59Z" fill="#f0f"/><path d="M180.51 328.09L182.98 323.59L178.03 323.59Z" fill="#f0f"/><path d="M185.37 328.09L187.85 323.59L182.9 323.59Z" fill="#f0f"/><path d="M190.24 328.09L192.71 323.59L187.76 323.59Z" fill="#f0f"/><path d="M195.1 328.09L197.58 323.59L192.63 323.59Z" fill="#f0f"/><path d="M199.97 328.09L202.44 323.59L197.49 323.59Z" fill="#f0f"/><path d="M204.83 328.09L207.31 323.59L202.36 323.59Z" fill="#f0f"/><path d="M209.7 328.09L212.17 323.59L207.22 323.59Z" fill="#f0f"/><path d="M214.56 328.09L217.04 323.59L212.09 323.59Z" fill="#f0f"/><path d="M219.43 328.09L221.9 323.59L216.95 323.59Z" fill="#f0f"/><path d="M224.29 328.09L226.77 323.59L221.82 323.59Z" fill="#f0f"/><path d="M229.16 328.09L231.63 323.59L226.68 323.59Z" fill="#f0f"/><path d="M234.02 328.09L236.5 323.59L231.55 323.59Z" fill="#f0f"/><path d="M238.89 328.09L241.36 323.59L236.41 323.59Z" fill="#f0f"/><path d="M243.75 328.09L246.23 323.59L241.28 323.59Z" fill="#f0f"/><path d="M248.62 328.09L251.09 323.59L246.14 323.59Z" fill="#f0f"/><path d="M253.48 328.09L255.96 323.59L251.01 323.59Z" fill="#f0f"/><path d="M258.35 328.09L260.82 323.59L255.87 323.59Z" fill="#f0f"/><path d="M263.21 328.09L265.69 323.59L260.74 323.59Z" fill="#f0f"/><path d="M268.08 328.09L270.55 323.59L265.6 323.59Z" fill="#f0f"/><path d="M272.94 328.09L275.42 323.59L270.47 323.59Z" fill="#f0f"/></g>
<g clip-path="url(#cc)"><path d="M46.52 414.6L49 417.3L46.52 420L44.05 417.3Z" fill="#008000"/><path d="M48.66 412.44L51.14 415.14L48.66 417.84L46.19 415.14Z" fill="#008000"/><path d="M51.19 402.72L53.67 405.42L51.19 408.12L48.72 405.42Z" fill="#008000"/><path d="M52.17 380.04L54.64 382.74L52.17 385.44L49.69 382.74Z" fill="#008000"/><path d="M53.04 297.42L55.52 300.12L53.04 302.82L50.57 300.12Z" fill="#008000"/><path d="M53.53 258L56.01 260.7L53.53 263.4L51.05 260.7Z" fill="#008000"/><path d="M54.11 295.8L56.59 298.5L54.11 301.2L51.64 298.5Z" fill="#008000"/><path d="M54.31 306.6L56.78 309.3L54.31 312L51.83 309.3Z" fill="#008000"/><path d="M54.5 314.7L56.98 317.4L54.5 320.1L52.03 317.4Z" fill="#008000"/><path d="M54.7 321.72L57.17 324.42L54.7 327.12L52.22 324.42Z" fill="#008000"/><path d="M54.99 336.3L57.46 339L54.99 341.7L52.51 339Z" fill="#008000"/><path d="M55.38 347.1L57.85 349.8L55.38 352.5L52.9 349.8Z" fill="#008000"/><path d="M55.96 360.6L58.44 363.3L55.96 366L53.49 363.3Z" fill="#008000"/><path d="M56.55 369.71L59.02 372.41L56.55 375.11L54.07 372.41Z" fill="#008000"/><path d="M57.13 377.04L59.61 379.74L57.13 382.44L54.66 379.74Z" fill="#008000"/><path d="M57.71 383.16L60.19 385.86L57.71 388.56L55.24 385.86Z" fill="#008000"/><path d="M58.3 388.41L60.77 391.11L58.3 393.81L55.82 391.11Z" fill="#008000"/><path d="M58.88 392.8L61.36 395.5L58.88 398.2L56.41 395.5Z" fill="#008000"/><path d="M59.47 396.46L61.94 399.16L59.47 401.86L56.99 399.16Z" fill="#008000"/><path d="M60.05 399.59L62.52 402.29L60.05 404.99L57.57 402.29Z" fill="#008000"/><path d="M60.63 401.99L63.11 404.69L60.63 407.39L58.16 404.69Z" fill="#008000"/><path d="M61.22 403.91L63.69 406.61L61.22 409.31L58.74 406.61Z" fill="#008000"/><path d="M61.8 405.55L64.28 408.25L61.8 410.95L59.33 408.25Z" fill="#008000"/><path d="M62.38 406.88L64.86 409.58L62.38 412.28L59.91 409.58Z" fill="#008000"/><path d="M63.55 408.74L66.03 411.44L63.55 414.14L61.08 411.44Z" fill="#008000"/><path d="M64.72 410.14L67.19 412.84L64.72 415.54L62.24 412.84Z" fill="#008000"/><path d="M65.89 411.21L68.36 413.91L65.89 416.61L63.41 413.91Z" fill="#008000"/><path d="M67.05 412L69.53 414.7L67.05 417.4L64.58 414.7Z" fill="#008000"/><path d="M68.22 412.65L70.7 415.35L68.22 418.05L65.75 415.35Z" fill="#008000"/><path d="M69.97 413.43L72.45 416.13L69.97 418.83L67.5 416.13Z" fill="#008000"/><path d="M71.73 414.06L74.2 416.76L71.73 419.46L69.25 416.76Z" fill="#008000"/><path d="M73.48 414.59L75.95 417.29L73.48 419.99L71 417.29Z" fill="#008000"/><path d="M75.23 414.33L77.7 417.03L75.23 419.73L72.75 417.03Z" fill="#008000"/><path d="M76.98 413.47L79.45 416.17L76.98 418.87L74.5 416.17Z" fill="#008000"/><path d="M78.15 412.86L80.62 415.56L78.15 418.26L75.67 415.56Z" fill="#008000"/><path d="M79.31 412.22L81.79 414.92L79.31 417.62L76.84 414.92Z" fill="#008000"/><path d="M80.48 411.28L82.96 413.98L80.48 416.68L78.01 413.98Z" fill="#008000"/><path d="M81.65 409.38L84.12 412.08L81.65 414.78L79.17 412.08Z" fill="#008000"/><path d="M82.23 408L84.71 410.7L82.23 413.4L79.76 410.7Z" fill="#008000"/><path d="M82.82 406.36L85.29 409.06L82.82 411.76L80.34 409.06Z" fill="#008000"/><path d="M83.4 404.48L85.88 407.18L83.4 409.88L80.93 407.18Z" fill="#008000"/><path d="M83.98 402.39L86.46 405.09L83.98 407.79L81.51 405.09Z" fill="#008000"/><path d="M84.57 399.41L87.04 402.11L84.57 404.81L82.09 402.11Z" fill="#008000"/><path d="M85.15 395.57L87.63 398.27L85.15 400.97L82.68 398.27Z" fill="#008000"/><path d="M85.74 391.44L88.21 394.14L85.74 396.84L83.26 394.14Z" fill="#008000"/><path d="M86.32 387.42L88.8 390.12L86.32 392.82L83.85 390.12Z" fill="#008000"/><path d="M86.9 383.16L89.38 385.86L86.9 388.56L84.43 385.86Z" fill="#008000"/><path d="M87.49 378.14L89.96 380.84L87.49 383.54L85.01 380.84Z" fill="#008000"/><path d="M88.07 371.75L90.55 374.45L88.07 377.15L85.6 374.45Z" fill="#008000"/><path d="M88.66 362.52L91.13 365.22L88.66 367.92L86.18 365.22Z" fill="#008000"/><path d="M89.24 352.02L91.71 354.72L89.24 357.42L86.76 354.72Z" fill="#008000"/><path d="M89.82 341.07L92.3 343.77L89.82 346.47L87.35 343.77Z" fill="#008000"/><path d="M90.41 328.03L92.88 330.73L90.41 333.43L87.93 330.73Z" fill="#008000"/><path d="M90.99 310.16L93.47 312.86L90.99 315.56L88.52 312.86Z" fill="#008000"/><path d="M91.57 294.9L94.05 297.6L91.57 300.3L89.1 297.6Z" fill="#008000"/><path d="M92.16 282.73L94.63 285.43L92.16 288.13L89.68 285.43Z" fill="#008000"/><path d="M92.74 271.19L95.22 273.89L92.74 276.59L90.27 273.89Z" fill="#008000"/><path d="M93.33 260.87L95.8 263.57L93.33 266.27L90.85 263.57Z" fill="#008000"/><path d="M93.91 256.02L96.38 258.72L93.91 261.42L91.43 258.72Z" fill="#008000"/><path d="M94.49 253.27L96.97 255.97L94.49 258.67L92.02 255.97Z" fill="#008000"/><path d="M96.24 255.32L98.72 258.02L96.24 260.72L93.77 258.02Z" fill="#008000"/><path d="M96.83 258.22L99.3 260.92L96.83 263.62L94.35 260.92Z" fill="#008000"/><path d="M97.41 262.99L99.89 265.69L97.41 268.39L94.94 265.69Z" fill="#008000"/><path d="M98 267.42L100.47 270.12L98 272.82L95.52 270.12Z" fill="#008000"/><path d="M98.58 272.05L101.05 274.75L98.58 277.45L96.1 274.75Z" fill="#008000"/><path d="M99.16 277.74L101.64 280.44L99.16 283.14L96.69 280.44Z" fill="#008000"/><path d="M99.75 284.51L102.22 287.21L99.75 289.91L97.27 287.21Z" fill="#008000"/><path d="M100.33 292.54L102.81 295.24L100.33 297.94L97.86 295.24Z" fill="#008000"/><path d="M100.92 301.15L103.39 303.85L100.92 306.55L98.44 303.85Z" fill="#008000"/><path d="M101.5 310.11L103.97 312.81L101.5 315.51L99.02 312.81Z" fill="#008000"/><path d="M102.08 319.14L104.56 321.84L102.08 324.54L99.61 321.84Z" fill="#008000"/><path d="M102.67 328.21L105.14 330.91L102.67 333.61L100.19 330.91Z" fill="#008000"/><path d="M103.25 337.17L105.73 339.87L103.25 342.57L100.78 339.87Z" fill="#008000"/><path d="M103.83 346.19L106.31 348.89L103.83 351.59L101.36 348.89Z" fill="#008000"/><path d="M104.42 354.34L106.89 357.04L104.42 359.74L101.94 357.04Z" fill="#008000"/><path d="M105 360.76L107.48 363.46L105 366.16L102.53 363.46Z" fill="#008000"/><path d="M106.1 369.24L108.58 371.94L106.1 374.64L103.63 371.94Z" fill="#008000"/><path d="M110.9 344.4L113.38 347.1L110.9 349.8L108.43 347.1Z" fill="#008000"/><path d="M111.48 342.28L113.96 344.98L111.48 347.68L109.01 344.98Z" fill="#008000"/><path d="M112.07 340.69L114.54 343.39L112.07 346.09L109.59 343.39Z" fill="#008000"/><path d="M112.65 339.14L115.13 341.84L112.65 344.54L110.18 341.84Z" fill="#008000"/><path d="M113.24 337.38L115.71 340.08L113.24 342.78L110.76 340.08Z" fill="#008000"/><path d="M113.82 335.65L116.29 338.35L113.82 341.05L111.34 338.35Z" fill="#008000"/><path d="M114.4 334.23L116.88 336.93L114.4 339.63L111.93 336.93Z" fill="#008000"/><path d="M114.99 333.06L117.46 335.76L114.99 338.46L112.51 335.76Z" fill="#008000"/><path d="M116.15 330.99L118.63 333.69L116.15 336.39L113.68 333.69Z" fill="#008000"/><path d="M117.32 328.95L119.8 331.65L117.32 334.35L114.85 331.65Z" fill="#008000"/><path d="M118.49 327.63L120.96 330.33L118.49 333.03L116.01 330.33Z" fill="#008000"/><path d="M119.66 326.69L122.13 329.39L119.66 332.09L117.18 329.39Z" fill="#008000"/><path d="M120.82 325.96L123.3 328.66L120.82 331.36L118.35 328.66Z" fill="#008000"/><path d="M121.99 325.36L124.47 328.06L121.99 330.76L119.52 328.06Z" fill="#008000"/><path d="M123.74 324.58L126.22 327.28L123.74 329.98L121.27 327.28Z" fill="#008000"/><path d="M125.49 323.96L127.97 326.66L125.49 329.36L123.02 326.66Z" fill="#008000"/><path d="M127.25 323.54L129.72 326.24L127.25 328.94L124.77 326.24Z" fill="#008000"/><path d="M129 323.21L131.47 325.91L129 328.61L126.52 325.91Z" fill="#008000"/><path d="M130.75 322.94L133.22 325.64L130.75 328.34L128.27 325.64Z" fill="#008000"/><path d="M132.5 322.81L134.98 325.51L132.5 328.21L130.03 325.51Z" fill="#008000"/><path d="M134.25 322.8L136.73 325.5L134.25 328.2L131.78 325.5Z" fill="#008000"/><path d="M136 322.8L138.48 325.5L136 328.2L133.53 325.5Z" fill="#008000"/><path d="M137.75 322.8L140.23 325.5L137.75 328.2L135.28 325.5Z" fill="#008000"/><path d="M139.51 322.8L141.98 325.5L139.51 328.2L137.03 325.5Z" fill="#008000"/><path d="M141.59 322.8L144.06 325.5L141.59 328.2L139.11 325.5Z" fill="#008000"/><path d="M146.45 322.8L148.93 325.5L146.45 328.2L143.98 325.5Z" fill="#008000"/><path d="M151.32 322.8L153.79 325.5L151.32 328.2L148.84 325.5Z" fill="#008000"/><path d="M156.18 322.8L158.66 325.5L156.18 328.2L153.71 325.5Z" fill="#008000"/><path d="M161.05 322.8L163.52 325.5L161.05 328.2L158.57 325.5Z" fill="#008000"/><path d="M165.91 322.8L168.39 325.5L165.91 328.2L163.44 325.5Z" fill="#008000"/><path d="M170.78 322.8L173.25 325.5L170.78 328.2L168.3 325.5Z" fill="#008000"/><path d="M175.64 322.8L178.12 325.5L175.64 328.2L173.17 325.5Z" fill="#008000"/><path d="M180.51 322.8L182.98 325.5L180.51 328.2L178.03 325.5Z" fill="#008000"/><path d="M185.37 322.8L187.85 325.5L185.37 328.2L182.9 325.5Z" fill="#008000"/><path d="M190.24 322.8L192.71 325.5L190.24 328.2L187.76 325.5Z" fill="#008000"/><path d="M195.1 322.8L197.58 325.5L195.1 328.2L192.63 325.5Z" fill="#008000"/><path d="M199.97 322.8L202.44 325.5L199.97 328.2L197.49 325.5Z" fill="#008000"/><path d="M204.83 322.8L207.31 325.5L204.83 328.2L202.36 325.5Z" fill="#008000"/><path d="M209.7 322.8L212.17 325.5L209.7 328.2L207.22 325.5Z" fill="#008000"/><path d="M214.56 322.8L217.04 325.5L214.56 328.2L212.09 325.5Z" fill="#008000"/><path d="M219.43 322.8L221.9 325.5L219.43 328.2L216.95 325.5Z" fill="#008000"/><path d="M224.29 322.8L226.77 325.5L224.29 328.2L221.82 325.5Z" fill="#008000"/><path d="M229.16 322.8L231.63 325.5L229.16 328.2L226.68 325.5Z" fill="#008000"/><path d="M234.02 322.8L236.5 325.5L234.02 328.2L231.55 325.5Z" fill="#008000"/><path d="M238.89 322.8L241.36 325.5L238.89 328.2L236.41 325.5Z" fill="#008000"/><path d="M243.75 322.8L246.23 325.5L243.75 328.2L241.28 325.5Z" fill="#008000"/><path d="M248.62 322.8L251.09 325.5L248.62 328.2L246.14 325.5Z" fill="#008000"/><path d="M253.48 322.8L255.96 325.5L253.48 328.2L251.01 325.5Z" fill="#008000"/><path d="M258.35 322.8L260.82 325.5L258.35 328.2L255.87 325.5Z" fill="#008000"/><path d="M263.21 322.8L265.69 325.5L263.21 328.2L260.74 325.5Z" fill="#008000"/><path d="M268.08 322.8L270.55 325.5L268.08 328.2L265.6 325.5Z" fill="#008000"/><path d="M272.94 322.8L275.42 325.5L272.94 328.2L270.47 325.5Z" fill="#008000"/></g>
<g clip-path="url(#cc)"><path d="M43.94 417.3L48.44 414.82L48.44 419.78Z" fill="#000080"/><path d="M46.08 415.14L50.58 412.66L50.58 417.62Z" fill="#000080"/><path d="M48.61 405.42L53.11 402.94L53.11 407.9Z" fill="#000080"/><path d="M49.58 382.74L54.08 380.26L54.08 385.22Z" fill="#000080"/><path d="M50.46 300.12L54.96 297.64L54.96 302.6Z" fill="#000080"/><path d="M50.94 260.7L55.44 258.23L55.44 263.18Z" fill="#000080"/><path d="M51.53 298.5L56.03 296.02L56.03 300.98Z" fill="#000080"/><path d="M51.72 309.3L56.22 306.82L56.22 311.78Z" fill="#000080"/><path d="M51.92 317.4L56.42 314.92L56.42 319.88Z" fill="#000080"/><path d="M52.11 324.42L56.61 321.94L56.61 326.9Z" fill="#000080"/><path d="M52.4 339.54L56.9 337.06L56.9 342.02Z" fill="#000080"/><path d="M52.79 350.34L57.29 347.87L57.29 352.82Z" fill="#000080"/><path d="M53.38 363.3L57.88 360.82L57.88 365.78Z" fill="#000080"/><path d="M53.96 372.33L58.46 369.86L58.46 374.81Z" fill="#000080"/><path d="M54.54 379.71L59.04 377.23L59.04 382.18Z" fill="#000080"/><path d="M55.13 385.86L59.63 383.38L59.63 388.33Z" fill="#000080"/><path d="M55.71 391.11L60.21 388.63L60.21 393.58Z" fill="#000080"/><path d="M56.29 395.5L60.79 393.03L60.79 397.98Z" fill="#000080"/><path d="M56.88 399.16L61.38 396.68L61.38 401.63Z" fill="#000080"/><path d="M57.46 402.29L61.96 399.81L61.96 404.76Z" fill="#000080"/><path d="M58.05 404.69L62.55 402.21L62.55 407.16Z" fill="#000080"/><path d="M58.63 406.61L63.13 404.13L63.13 409.08Z" fill="#000080"/><path d="M59.21 408.25L63.71 405.77L63.71 410.72Z" fill="#000080"/><path d="M59.8 409.58L64.3 407.1L64.3 412.05Z" fill="#000080"/><path d="M60.96 411.44L65.46 408.96L65.46 413.91Z" fill="#000080"/><path d="M62.13 412.84L66.63 410.37L66.63 415.32Z" fill="#000080"/><path d="M63.3 413.91L67.8 411.43L67.8 416.38Z" fill="#000080"/><path d="M64.47 414.7L68.97 412.23L68.97 417.18Z" fill="#000080"/><path d="M65.63 415.35L70.13 412.88L70.13 417.83Z" fill="#000080"/><path d="M67.39 416.13L71.89 413.66L71.89 418.61Z" fill="#000080"/><path d="M69.14 416.76L73.64 414.28L73.64 419.23Z" fill="#000080"/><path d="M70.89 417.36L75.39 414.89L75.39 419.84Z" fill="#000080"/><path d="M72.64 417.79L77.14 415.32L77.14 420.27Z" fill="#000080"/><path d="M74.39 417.83L78.89 415.36L78.89 420.31Z" fill="#000080"/><path d="M76.14 417.8L80.64 415.33L80.64 420.28Z" fill="#000080"/><path d="M77.89 417.74L82.39 415.27L82.39 420.22Z" fill="#000080"/><path d="M79.65 417.67L84.15 415.2L84.15 420.15Z" fill="#000080"/><path d="M81.4 417.59L85.9 415.12L85.9 420.07Z" fill="#000080"/><path d="M83.15 417.51L87.65 415.03L87.65 419.98Z" fill="#000080"/><path d="M84.9 417.43L89.4 414.95L89.4 419.9Z" fill="#000080"/><path d="M86.65 417.36L91.15 414.89L91.15 419.84Z" fill="#000080"/><path d="M88.4 417.32L92.9 414.84L92.9 419.79Z" fill="#000080"/><path d="M90.15 417.3L94.65 414.83L94.65 419.78Z" fill="#000080"/><path d="M91.91 417.01L96.41 414.53L96.41 419.48Z" fill="#000080"/><path d="M93.66 416.14L98.16 413.66L98.16 418.61Z" fill="#000080"/><path d="M94.82 415.52L99.32 413.05L99.32 418Z" fill="#000080"/><path d="M95.99 414.88L100.49 412.4L100.49 417.35Z" fill="#000080"/><path d="M97.16 413.9L101.66 411.43L101.66 416.38Z" fill="#000080"/><path d="M98.33 411.94L102.83 409.47L102.83 414.42Z" fill="#000080"/><path d="M98.91 410.53L103.41 408.05L103.41 413Z" fill="#000080"/><path d="M99.5 408.86L104 406.38L104 411.33Z" fill="#000080"/><path d="M100.08 406.96L104.58 404.49L104.58 409.44Z" fill="#000080"/><path d="M100.66 404.82L105.16 402.34L105.16 407.29Z" fill="#000080"/><path d="M101.25 401.72L105.75 399.24L105.75 404.19Z" fill="#000080"/><path d="M101.83 397.81L106.33 395.34L106.33 400.29Z" fill="#000080"/><path d="M102.41 393.68L106.91 391.2L106.91 396.15Z" fill="#000080"/><path d="M103 389.67L107.5 387.19L107.5 392.14Z" fill="#000080"/><path d="M103.58 385.35L108.08 382.87L108.08 387.82Z" fill="#000080"/><path d="M104.17 380.2L108.67 377.73L108.67 382.68Z" fill="#000080"/><path d="M104.75 373.61L109.25 371.14L109.25 376.09Z" fill="#000080"/><path d="M105.33 363.96L109.83 361.49L109.83 366.44Z" fill="#000080"/><path d="M105.92 353.58L110.42 351.11L110.42 356.06Z" fill="#000080"/><path d="M106.5 342.44L111 339.96L111 344.91Z" fill="#000080"/><path d="M107.08 329.01L111.58 326.54L111.58 331.49Z" fill="#000080"/><path d="M107.67 310.81L112.17 308.33L112.17 313.28Z" fill="#000080"/><path d="M108.25 296.21L112.75 293.74L112.75 298.69Z" fill="#000080"/><path d="M108.84 284.04L113.34 281.57L113.34 286.52Z" fill="#000080"/><path d="M109.42 272.61L113.92 270.13L113.92 275.08Z" fill="#000080"/><path d="M110 262.72L114.5 260.24L114.5 265.19Z" fill="#000080"/><path d="M110.59 258.34L115.09 255.86L115.09 260.81Z" fill="#000080"/><path d="M111.17 255.78L115.67 253.3L115.67 258.25Z" fill="#000080"/><path d="M112.34 256.47L116.84 254L116.84 258.95Z" fill="#000080"/><path d="M112.92 258.24L117.42 255.76L117.42 260.71Z" fill="#000080"/><path d="M113.51 261.41L118.01 258.93L118.01 263.88Z" fill="#000080"/><path d="M114.09 266.23L118.59 263.75L118.59 268.7Z" fill="#000080"/><path d="M114.67 270.61L119.17 268.14L119.17 273.09Z" fill="#000080"/><path d="M115.26 275.33L119.76 272.85L119.76 277.8Z" fill="#000080"/><path d="M115.84 281.15L120.34 278.68L120.34 283.63Z" fill="#000080"/><path d="M116.43 288.04L120.93 285.56L120.93 290.51Z" fill="#000080"/><path d="M117.01 296.2L121.51 293.72L121.51 298.67Z" fill="#000080"/><path d="M117.59 304.84L122.09 302.36L122.09 307.31Z" fill="#000080"/><path d="M118.18 313.83L122.68 311.35L122.68 316.3Z" fill="#000080"/><path d="M118.76 322.85L123.26 320.38L123.26 325.33Z" fill="#000080"/><path d="M119.34 331.92L123.84 329.45L123.84 334.4Z" fill="#000080"/><path d="M119.93 340.86L124.43 338.38L124.43 343.33Z" fill="#000080"/><path d="M120.51 349.89L125.01 347.41L125.01 352.36Z" fill="#000080"/><path d="M121.1 357.81L125.6 355.34L125.6 360.29Z" fill="#000080"/><path d="M121.68 364.1L126.18 361.63L126.18 366.58Z" fill="#000080"/><path d="M122.71 371.94L127.21 369.46L127.21 374.42Z" fill="#000080"/><path d="M127.51 347.1L132.01 344.62L132.01 349.58Z" fill="#000080"/><path d="M128.1 344.98L132.6 342.51L132.6 347.46Z" fill="#000080"/><path d="M128.68 343.39L133.18 340.91L133.18 345.86Z" fill="#000080"/><path d="M129.26 341.84L133.76 339.37L133.76 344.32Z" fill="#000080"/><path d="M129.85 340.08L134.35 337.6L134.35 342.55Z" fill="#000080"/><path d="M130.43 338.35L134.93 335.88L134.93 340.83Z" fill="#000080"/><path d="M131.02 336.93L135.52 334.45L135.52 339.4Z" fill="#000080"/><path d="M131.6 335.76L136.1 333.29L136.1 338.24Z" fill="#000080"/><path d="M132.77 333.69L137.27 331.21L137.27 336.16Z" fill="#000080"/><path d="M133.93 331.65L138.43 329.17L138.43 334.12Z" fill="#000080"/><path d="M135.1 330.33L139.6 327.85L139.6 332.8Z" fill="#000080"/><path d="M136.27 329.39L140.77 326.92L140.77 331.87Z" fill="#000080"/><path d="M137.44 328.66L141.94 326.18L141.94 331.13Z" fill="#000080"/><path d="M138.6 328.06L143.1 325.58L143.1 330.53Z" fill="#000080"/><path d="M140.36 327.28L144.86 324.81L144.86 329.76Z" fill="#000080"/><path d="M142.11 326.66L146.61 324.19L146.61 329.14Z" fill="#000080"/><path d="M143.86 326.24L148.36 323.77L148.36 328.72Z" fill="#000080"/><path d="M145.61 325.91L150.11 323.43L150.11 328.38Z" fill="#000080"/><path d="M147.36 325.64L151.86 323.16L151.86 328.11Z" fill="#000080"/><path d="M149.11 325.51L153.61 323.03L153.61 327.98Z" fill="#000080"/><path d="M150.86 325.5L155.36 323.02L155.36 327.98Z" fill="#000080"/><path d="M152.62 325.5L157.12 323.02L157.12 327.98Z" fill="#000080"/><path d="M154.37 325.5L158.87 323.02L158.87 327.98Z" fill="#000080"/><path d="M156.12 325.5L160.62 323.02L160.62 327.98Z" fill="#000080"/><path d="M157.87 325.5L162.37 323.02L162.37 327.98Z" fill="#000080"/><path d="M163.32 325.5L167.82 323.02L167.82 327.98Z" fill="#000080"/><path d="M168.19 325.5L172.69 323.02L172.69 327.98Z" fill="#000080"/><path d="M173.05 325.5L177.55 323.02L177.55 327.98Z" fill="#000080"/><path d="M177.92 325.5L182.42 323.02L182.42 327.98Z" fill="#000080"/><path d="M182.78 325.5L187.28 323.02L187.28 327.98Z" fill="#000080"/><path d="M187.65 325.5L192.15 323.02L192.15 327.98Z" fill="#000080"/><path d="M192.51 325.5L197.01 323.02L197.01 327.98Z" fill="#000080"/><path d="M197.38 325.5L201.88 323.02L201.88 327.98Z" fill="#000080"/><path d="M202.24 325.5L206.74 323.02L206.74 327.98Z" fill="#000080"/><path d="M207.11 325.5L211.61 323.02L211.61 327.98Z" fill="#000080"/><path d="M211.97 325.5L216.47 323.02L216.47 327.98Z" fill="#000080"/><path d="M216.84 325.5L221.34 323.02L221.34 327.98Z" fill="#000080"/><path d="M221.7 325.5L226.2 323.02L226.2 327.98Z" fill="#000080"/><path d="M226.57 325.5L231.07 323.02L231.07 327.98Z" fill="#000080"/><path d="M231.43 325.5L235.93 323.02L235.93 327.98Z" fill="#000080"/><path d="M236.3 325.5L240.8 323.02L240.8 327.98Z" fill="#000080"/><path d="M241.16 325.5L245.66 323.02L245.66 327.98Z" fill="#000080"/><path d="M246.03 325.5L250.53 323.02L250.53 327.98Z" fill="#000080"/><path d="M250.89 325.5L255.39 323.02L255.39 327.98Z" fill="#000080"/><path d="M255.76 325.5L260.26 323.02L260.26 327.98Z" fill="#000080"/><path d="M260.62 325.5L265.12 323.02L265.12 327.98Z" fill="#000080"/><path d="M265.49 325.5L269.99 323.02L269.99 327.98Z" fill="#000080"/><path d="M270.35 325.5L274.85 323.02L274.85 327.98Z" fill="#000080"/></g>
<g clip-path="url(#cc)"><path d="M49.11 417.3L44.61 414.82L44.61 419.78Z" fill="#8000ff"/><path d="M51.25 415.14L46.75 412.66L46.75 417.62Z" fill="#8000ff"/><path d="M53.78 405.42L49.28 402.94L49.28 407.9Z" fill="#8000ff"/><path d="M54.76 382.74L50.26 380.26L50.26 385.22Z" fill="#8000ff"/><path d="M55.63 306.6L51.13 304.12L51.13 309.08Z" fill="#8000ff"/><path d="M56.12 260.7L51.62 258.23L51.62 263.18Z" fill="#8000ff"/><path d="M56.7 298.5L52.2 296.02L52.2 300.98Z" fill="#8000ff"/><path d="M56.9 309.3L52.4 306.82L52.4 311.78Z" fill="#8000ff"/><path d="M57.09 317.4L52.59 314.92L52.59 319.88Z" fill="#8000ff"/><path d="M57.29 324.42L52.79 321.94L52.79 326.9Z" fill="#8000ff"/><path d="M57.58 339.54L53.08 337.06L53.08 342.02Z" fill="#8000ff"/><path d="M57.97 350.34L53.47 347.87L53.47 352.82Z" fill="#8000ff"/><path d="M58.55 363.3L54.05 360.82L54.05 365.78Z" fill="#8000ff"/><path d="M59.13 372.33L54.63 369.86L54.63 374.81Z" fill="#8000ff"/><path d="M59.72 379.71L55.22 377.23L55.22 382.18Z" fill="#8000ff"/><path d="M60.3 385.86L55.8 383.38L55.8 388.33Z" fill="#8000ff"/><path d="M60.89 391.11L56.39 388.63L56.39 393.58Z" fill="#8000ff"/><path d="M61.47 395.5L56.97 393.03L56.97 397.98Z" fill="#8000ff"/><path d="M62.05 399.16L57.55 396.68L57.55 401.63Z" fill="#8000ff"/><path d="M62.64 402.29L58.14 399.81L58.14 404.76Z" fill="#8000ff"/><path d="M63.22 404.69L58.72 402.21L58.72 407.16Z" fill="#8000ff"/><path d="M63.8 406.61L59.3 404.13L59.3 409.08Z" fill="#8000ff"/><path d="M64.39 408.25L59.89 405.77L59.89 410.72Z" fill="#8000ff"/><path d="M64.97 409.58L60.47 407.1L60.47 412.05Z" fill="#8000ff"/><path d="M66.14 411.44L61.64 408.96L61.64 413.91Z" fill="#8000ff"/><path d="M67.31 412.84L62.81 410.37L62.81 415.32Z" fill="#8000ff"/><path d="M68.47 413.91L63.97 411.43L63.97 416.38Z" fill="#8000ff"/><path d="M69.64 414.7L65.14 412.23L65.14 417.18Z" fill="#8000ff"/><path d="M70.81 415.35L66.31 412.88L66.31 417.83Z" fill="#8000ff"/><path d="M72.56 416.13L68.06 413.66L68.06 418.61Z" fill="#8000ff"/><path d="M74.31 416.76L69.81 414.28L69.81 419.23Z" fill="#8000ff"/><path d="M76.06 417.36L71.56 414.89L71.56 419.84Z" fill="#8000ff"/><path d="M77.82 417.79L73.32 415.32L73.32 420.27Z" fill="#8000ff"/><path d="M79.57 417.84L75.07 415.36L75.07 420.31Z" fill="#8000ff"/><path d="M81.32 417.83L76.82 415.36L76.82 420.31Z" fill="#8000ff"/><path d="M83.07 417.82L78.57 415.34L78.57 420.29Z" fill="#8000ff"/><path d="M84.82 417.8L80.32 415.32L80.32 420.27Z" fill="#8000ff"/><path d="M86.57 417.77L82.07 415.3L82.07 420.25Z" fill="#8000ff"/><path d="M88.32 417.74L83.82 415.27L83.82 420.22Z" fill="#8000ff"/><path d="M90.08 417.71L85.58 415.23L85.58 420.18Z" fill="#8000ff"/><path d="M91.83 417.67L87.33 415.2L87.33 420.15Z" fill="#8000ff"/><path d="M93.58 417.64L89.08 415.16L89.08 420.11Z" fill="#8000ff"/><path d="M95.33 417.6L90.83 415.12L90.83 420.07Z" fill="#8000ff"/><path d="M97.08 417.56L92.58 415.08L92.58 420.03Z" fill="#8000ff"/><path d="M98.83 417.52L94.33 415.04L94.33 419.99Z" fill="#8000ff"/><path d="M100.58 417.48L96.08 415.01L96.08 419.96Z" fill="#8000ff"/><path d="M102.33 417.44L97.83 414.97L97.83 419.92Z" fill="#8000ff"/><path d="M104.09 417.41L99.59 414.94L99.59 419.89Z" fill="#8000ff"/><path d="M105.84 417.38L101.34 414.9L101.34 419.85Z" fill="#8000ff"/><path d="M107.59 417.35L103.09 414.88L103.09 419.83Z" fill="#8000ff"/><path d="M109.34 417.33L104.84 414.86L104.84 419.81Z" fill="#8000ff"/><path d="M111.09 417.31L106.59 414.84L106.59 419.79Z" fill="#8000ff"/><path d="M112.84 417.3L108.34 414.83L108.34 419.78Z" fill="#8000ff"/><path d="M114.59 417.3L110.09 414.82L110.09 419.78Z" fill="#8000ff"/><path d="M116.35 416.94L111.85 414.47L111.85 419.42Z" fill="#8000ff"/><path d="M117.51 416.37L113.01 413.89L113.01 418.84Z" fill="#8000ff"/><path d="M118.68 415.73L114.18 413.26L114.18 418.21Z" fill="#8000ff"/><path d="M119.85 415.13L115.35 412.66L115.35 417.61Z" fill="#8000ff"/><path d="M121.02 414.31L116.52 411.84L116.52 416.79Z" fill="#8000ff"/><path d="M122.18 412.78L117.68 410.31L117.68 415.26Z" fill="#8000ff"/><path d="M122.77 411.57L118.27 409.09L118.27 414.04Z" fill="#8000ff"/><path d="M123.35 410.08L118.85 407.6L118.85 412.55Z" fill="#8000ff"/><path d="M123.94 408.34L119.44 405.87L119.44 410.82Z" fill="#8000ff"/><path d="M124.52 406.39L120.02 403.91L120.02 408.86Z" fill="#8000ff"/><path d="M125.1 404.05L120.6 401.58L120.6 406.53Z" fill="#8000ff"/><path d="M125.69 400.67L121.19 398.19L121.19 403.14Z" fill="#8000ff"/><path d="M126.27 396.64L121.77 394.17L121.77 399.12Z" fill="#8000ff"/><path d="M126.85 392.54L122.35 390.07L122.35 395.02Z" fill="#8000ff"/><path d="M127.44 388.5L122.94 386.02L122.94 390.97Z" fill="#8000ff"/><path d="M128.02 384L123.52 381.52L123.52 386.47Z" fill="#8000ff"/><path d="M128.61 378.52L124.11 376.04L124.11 380.99Z" fill="#8000ff"/><path d="M129.19 371.37L124.69 368.89L124.69 373.84Z" fill="#8000ff"/><path d="M129.77 360.85L125.27 358.37L125.27 363.32Z" fill="#8000ff"/><path d="M130.36 350.63L125.86 348.16L125.86 353.11Z" fill="#8000ff"/><path d="M130.94 338.95L126.44 336.47L126.44 341.42Z" fill="#8000ff"/><path d="M131.52 324.18L127.02 321.71L127.02 326.66Z" fill="#8000ff"/><path d="M132.11 305.96L127.61 303.49L127.61 308.44Z" fill="#8000ff"/><path d="M132.69 292.8L128.19 290.32L128.19 295.27Z" fill="#8000ff"/><path d="M133.28 280.65L128.78 278.17L128.78 283.12Z" fill="#8000ff"/><path d="M133.86 269.43L129.36 266.95L129.36 271.9Z" fill="#8000ff"/><path d="M134.44 261.02L129.94 258.55L129.94 263.5Z" fill="#8000ff"/><path d="M135.03 257.44L130.53 254.96L130.53 259.91Z" fill="#8000ff"/><path d="M135.61 255.43L131.11 252.96L131.11 257.91Z" fill="#8000ff"/><path d="M136.78 257.02L132.28 254.54L132.28 259.49Z" fill="#8000ff"/><path d="M137.36 258.77L132.86 256.3L132.86 261.25Z" fill="#8000ff"/><path d="M137.95 261.08L133.45 258.6L133.45 263.55Z" fill="#8000ff"/><path d="M138.53 264.3L134.03 261.83L134.03 266.78Z" fill="#8000ff"/><path d="M139.11 269.13L134.61 266.65L134.61 271.6Z" fill="#8000ff"/><path d="M139.7 274.73L135.2 272.26L135.2 277.21Z" fill="#8000ff"/><path d="M140.28 280.87L135.78 278.4L135.78 283.35Z" fill="#8000ff"/><path d="M140.87 288.21L136.37 285.74L136.37 290.69Z" fill="#8000ff"/><path d="M141.45 296.74L136.95 294.26L136.95 299.21Z" fill="#8000ff"/><path d="M142.19 304.98L137.69 302.5L137.69 307.46Z" fill="#8000ff"/><path d="M144.69 334.68L140.19 332.2L140.19 337.16Z" fill="#8000ff"/><path d="M146.59 347.1L142.09 344.62L142.09 349.58Z" fill="#8000ff"/><path d="M147.89 357.9L143.39 355.42L143.39 360.38Z" fill="#8000ff"/><path d="M148.59 380.04L144.09 377.56L144.09 382.52Z" fill="#8000ff"/><path d="M151.09 351.42L146.59 348.94L146.59 353.9Z" fill="#8000ff"/><path d="M152.59 345.48L148.09 343L148.09 347.96Z" fill="#8000ff"/><path d="M155.59 339.54L151.09 337.06L151.09 342.02Z" fill="#8000ff"/><path d="M158.59 333.6L154.09 331.12L154.09 336.08Z" fill="#8000ff"/><path d="M162.59 329.28L158.09 326.81L158.09 331.76Z" fill="#8000ff"/><path d="M167.59 326.58L163.09 324.11L163.09 329.06Z" fill="#8000ff"/><path d="M172.59 325.5L168.09 323.02L168.09 327.98Z" fill="#8000ff"/><path d="M177.45 325.5L172.95 323.02L172.95 327.98Z" fill="#8000ff"/><path d="M182.32 325.5L177.82 323.02L177.82 327.98Z" fill="#8000ff"/><path d="M187.18 325.5L182.68 323.02L182.68 327.98Z" fill="#8000ff"/><path d="M192.05 325.5L187.55 323.02L187.55 327.98Z" fill="#8000ff"/><path d="M196.91 325.5L192.41 323.02L192.41 327.98Z" fill="#8000ff"/><path d="M201.78 325.5L197.28 323.02L197.28 327.98Z" fill="#8000ff"/><path d="M206.64 325.5L202.14 323.02L202.14 327.98Z" fill="#8000ff"/><path d="M211.51 325.5L207.01 323.02L207.01 327.98Z" fill="#8000ff"/><path d="M216.37 325.5L211.87 323.02L211.87 327.98Z" fill="#8000ff"/><path d="M221.24 325.5L216.74 323.02L216.74 327.98Z" fill="#8000ff"/><path d="M226.1 325.5L221.6 323.02L221.6 327.98Z" fill="#8000ff"/><path d="M230.97 325.5L226.47 323.02L226.47 327.98Z" fill="#8000ff"/><path d="M235.83 325.5L231.33 323.02L231.33 327.98Z" fill="#8000ff"/><path d="M240.7 325.5L236.2 323.02L236.2 327.98Z" fill="#8000ff"/><path d="M245.56 325.5L241.06 323.02L241.06 327.98Z" fill="#8000ff"/><path d="M250.43 325.5L245.93 323.02L245.93 327.98Z" fill="#8000ff"/><path d="M255.29 325.5L250.79 323.02L250.79 327.98Z" fill="#8000ff"/><path d="M260.16 325.5L255.66 323.02L255.66 327.98Z" fill="#8000ff"/><path d="M265.02 325.5L260.52 323.02L260.52 327.98Z" fill="#8000ff"/><path d="M269.89 325.5L265.39 323.02L265.39 327.98Z" fill="#8000ff"/><path d="M274.75 325.5L270.25 323.02L270.25 327.98Z" fill="#8000ff"/><path d="M279.62 325.5L275.12 323.02L275.12 327.98Z" fill="#8000ff"/></g>
<g clip-path="url(#cc)"><circle cx="46.52" cy="417.3" r="2.25" fill="#800080"/><circle cx="48.66" cy="415.14" r="2.25" fill="#800080"/><circle cx="51.19" cy="405.42" r="2.25" fill="#800080"/><circle cx="52.17" cy="382.74" r="2.25" fill="#800080"/><circle cx="53.04" cy="296.34" r="2.25" fill="#800080"/><circle cx="53.53" cy="258.54" r="2.25" fill="#800080"/><circle cx="54.11" cy="298.5" r="2.25" fill="#800080"/><circle cx="54.31" cy="309.3" r="2.25" fill="#800080"/><circle cx="54.5" cy="317.4" r="2.25" fill="#800080"/><circle cx="54.7" cy="324.42" r="2.25" fill="#800080"/><circle cx="54.99" cy="339.54" r="2.25" fill="#800080"/><circle cx="55.38" cy="350.34" r="2.25" fill="#800080"/><circle cx="55.96" cy="363.3" r="2.25" fill="#800080"/><circle cx="56.55" cy="372.33" r="2.25" fill="#800080"/><circle cx="57.13" cy="379.71" r="2.25" fill="#800080"/><circle cx="57.71" cy="385.86" r="2.25" fill="#800080"/><circle cx="58.3" cy="391.11" r="2.25" fill="#800080"/><circle cx="58.88" cy="395.5" r="2.25" fill="#800080"/><circle cx="59.47" cy="399.16" r="2.25" fill="#800080"/><circle cx="60.05" cy="402.29" r="2.25" fill="#800080"/><circle cx="60.63" cy="404.69" r="2.25" fill="#800080"/><circle cx="61.22" cy="406.61" r="2.25" fill="#800080"/><circle cx="61.8" cy="408.25" r="2.25" fill="#800080"/><circle cx="62.38" cy="409.58" r="2.25" fill="#800080"/><circle cx="63.55" cy="411.44" r="2.25" fill="#800080"/><circle cx="64.72" cy="412.84" r="2.25" fill="#800080"/><circle cx="65.89" cy="413.91" r="2.25" fill="#800080"/><circle cx="67.05" cy="414.7" r="2.25" fill="#800080"/><circle cx="68.22" cy="415.35" r="2.25" fill="#800080"/><circle cx="69.97" cy="416.13" r="2.25" fill="#800080"/><circle cx="71.73" cy="416.76" r="2.25" fill="#800080"/><circle cx="73.48" cy="417.36" r="2.25" fill="#800080"/><circle cx="75.23" cy="417.79" r="2.25" fill="#800080"/><circle cx="76.98" cy="417.84" r="2.25" fill="#800080"/><circle cx="78.73" cy="417.84" r="2.25" fill="#800080"/><circle cx="80.48" cy="417.84" r="2.25" fill="#800080"/><circle cx="82.23" cy="417.84" r="2.25" fill="#800080"/><circle cx="83.98" cy="417.84" r="2.25" fill="#800080"/><circle cx="85.74" cy="417.84" r="2.25" fill="#800080"/><circle cx="87.49" cy="417.84" r="2.25" fill="#800080"/><circle cx="89.24" cy="417.84" r="2.25" fill="#800080"/><circle cx="90.99" cy="417.84" r="2.25" fill="#800080"/><circle cx="92.74" cy="417.84" r="2.25" fill="#800080"/><circle cx="94.49" cy="417.84" r="2.25" fill="#800080"/><circle cx="96.24" cy="417.84" r="2.25" fill="#800080"/><circle cx="98" cy="417.84" r="2.25" fill="#800080"/><circle cx="99.75" cy="417.84" r="2.25" fill="#800080"/><circle cx="101.5" cy="417.84" r="2.25" fill="#800080"/><circle cx="103.25" cy="417.84" r="2.25" fill="#800080"/><circle cx="105" cy="417.84" r="2.25" fill="#800080"/><circle cx="106.75" cy="417.84" r="2.25" fill="#800080"/><circle cx="108.5" cy="417.84" r="2.25" fill="#800080"/><circle cx="110.26" cy="417.84" r="2.25" fill="#800080"/><circle cx="112.01" cy="417.84" r="2.25" fill="#800080"/><circle cx="113.76" cy="417.84" r="2.25" fill="#800080"/><circle cx="115.51" cy="417.84" r="2.25" fill="#800080"/><circle cx="117.26" cy="417.84" r="2.25" fill="#800080"/><circle cx="119.01" cy="417.84" r="2.25" fill="#800080"/><circle cx="120.76" cy="417.84" r="2.25" fill="#800080"/><circle cx="122.52" cy="417.84" r="2.25" fill="#800080"/><circle cx="124.27" cy="417.84" r="2.25" fill="#800080"/><circle cx="126.02" cy="417.84" r="2.25" fill="#800080"/><circle cx="127.77" cy="417.84" r="2.25" fill="#800080"/><circle cx="129.52" cy="417.84" r="2.25" fill="#800080"/><circle cx="131.27" cy="417.84" r="2.25" fill="#800080"/><circle cx="133.02" cy="417.84" r="2.25" fill="#800080"/><circle cx="134.78" cy="417.84" r="2.25" fill="#800080"/><circle cx="136.53" cy="417.84" r="2.25" fill="#800080"/><circle cx="138.28" cy="417.84" r="2.25" fill="#800080"/><circle cx="140.03" cy="417.84" r="2.25" fill="#800080"/><circle cx="141.78" cy="417.84" r="2.25" fill="#800080"/><circle cx="143.53" cy="417.84" r="2.25" fill="#800080"/><circle cx="145.28" cy="417.84" r="2.25" fill="#800080"/><circle cx="147.04" cy="417.84" r="2.25" fill="#800080"/><circle cx="148.79" cy="417.84" r="2.25" fill="#800080"/><circle cx="150.54" cy="417.84" r="2.25" fill="#800080"/><circle cx="152.29" cy="417.84" r="2.25" fill="#800080"/><circle cx="154.04" cy="417.84" r="2.25" fill="#800080"/><circle cx="155.79" cy="417.84" r="2.25" fill="#800080"/><circle cx="157.54" cy="417.84" r="2.25" fill="#800080"/><circle cx="159.3" cy="417.84" r="2.25" fill="#800080"/><circle cx="161.05" cy="417.84" r="2.25" fill="#800080"/><circle cx="162.8" cy="417.84" r="2.25" fill="#800080"/><circle cx="164.55" cy="417.84" r="2.25" fill="#800080"/><circle cx="166.3" cy="417.84" r="2.25" fill="#800080"/><circle cx="168.05" cy="417.84" r="2.25" fill="#800080"/><circle cx="169.8" cy="417.84" r="2.25" fill="#800080"/><circle cx="171.55" cy="417.84" r="2.25" fill="#800080"/><circle cx="173.31" cy="417.84" r="2.25" fill="#800080"/><circle cx="175.06" cy="417.84" r="2.25" fill="#800080"/><circle cx="176.81" cy="417.84" r="2.25" fill="#800080"/><circle cx="178.56" cy="417.84" r="2.25" fill="#800080"/><circle cx="180.31" cy="417.84" r="2.25" fill="#800080"/><circle cx="182.06" cy="417.84" r="2.25" fill="#800080"/><circle cx="183.81" cy="417.84" r="2.25" fill="#800080"/><circle cx="185.57" cy="417.84" r="2.25" fill="#800080"/><circle cx="187.32" cy="417.84" r="2.25" fill="#800080"/><circle cx="189.07" cy="417.84" r="2.25" fill="#800080"/><circle cx="190.82" cy="417.84" r="2.25" fill="#800080"/><circle cx="192.57" cy="417.84" r="2.25" fill="#800080"/><circle cx="194.32" cy="417.84" r="2.25" fill="#800080"/><circle cx="196.07" cy="417.84" r="2.25" fill="#800080"/><circle cx="197.83" cy="417.84" r="2.25" fill="#800080"/><circle cx="199.58" cy="417.84" r="2.25" fill="#800080"/><circle cx="201.33" cy="417.84" r="2.25" fill="#800080"/><circle cx="203.08" cy="417.84" r="2.25" fill="#800080"/><circle cx="204.83" cy="417.84" r="2.25" fill="#800080"/><circle cx="206.58" cy="417.84" r="2.25" fill="#800080"/><circle cx="208.33" cy="417.84" r="2.25" fill="#800080"/><circle cx="210.09" cy="417.84" r="2.25" fill="#800080"/><circle cx="211.84" cy="417.84" r="2.25" fill="#800080"/><circle cx="213.59" cy="417.84" r="2.25" fill="#800080"/><circle cx="215.34" cy="417.84" r="2.25" fill="#800080"/><circle cx="217.09" cy="417.84" r="2.25" fill="#800080"/><circle cx="218.84" cy="417.84" r="2.25" fill="#800080"/><circle cx="220.59" cy="417.84" r="2.25" fill="#800080"/><circle cx="222.35" cy="417.84" r="2.25" fill="#800080"/><circle cx="224.1" cy="417.84" r="2.25" fill="#800080"/><circle cx="225.85" cy="417.84" r="2.25" fill="#800080"/><circle cx="227.6" cy="417.84" r="2.25" fill="#800080"/><circle cx="229.35" cy="417.37" r="2.25" fill="#800080"/><circle cx="231.1" cy="417.14" r="2.25" fill="#800080"/><circle cx="231.59" cy="417.08" r="2.25" fill="#800080"/><circle cx="232.56" cy="416.87" r="2.25" fill="#800080"/><circle cx="233.54" cy="416.6" r="2.25" fill="#800080"/><circle cx="234.51" cy="416.22" r="2.25" fill="#800080"/><circle cx="235.48" cy="415.41" r="2.25" fill="#800080"/><circle cx="236.45" cy="414.33" r="2.25" fill="#800080"/><circle cx="237.33" cy="412.98" r="2.25" fill="#800080"/><circle cx="239.08" cy="408.12" r="2.25" fill="#800080"/><circle cx="240.35" cy="403.26" r="2.25" fill="#800080"/><circle cx="241.81" cy="395.16" r="2.25" fill="#800080"/><circle cx="242.88" cy="387.06" r="2.25" fill="#800080"/><circle cx="244.43" cy="363.3" r="2.25" fill="#800080"/><circle cx="246.38" cy="309.3" r="2.25" fill="#800080"/><circle cx="247.55" cy="281.76" r="2.25" fill="#800080"/><circle cx="249.01" cy="255.3" r="2.25" fill="#800080"/><circle cx="251.34" cy="259.62" r="2.25" fill="#800080"/><circle cx="255.23" cy="306.06" r="2.25" fill="#800080"/><circle cx="258.64" cy="356.82" r="2.25" fill="#800080"/><circle cx="264.57" cy="328.2" r="2.25" fill="#800080"/><circle cx="270.41" cy="324.96" r="2.25" fill="#800080"/><circle cx="274.89" cy="324.96" r="2.25" fill="#800080"/></g>
<polyline fill="none" stroke="#999" stroke-width="0.95" points="315.9,49.17 390.9,27.14 420.9,17.75 465.9,162.91 540.9,165.8"/>
<rect x="313.88" y="47.14" width="4.05" height="4.05" fill="#000"/><rect x="388.88" y="25.11" width="4.05" height="4.05" fill="#000"/><rect x="418.88" y="15.73" width="4.05" height="4.05" fill="#000"/><rect x="463.88" y="160.89" width="4.05" height="4.05" fill="#000"/><rect x="538.88" y="163.78" width="4.05" height="4.05" fill="#000"/>
<polyline fill="none" stroke="#999" stroke-width="0.95" points="320.7,417.78 351.39,417.78 402.54,417.03 416.18,260.7 429.82,260.7 443.46,260.7 457.1,260.7 538.94,266.68"/>
<rect x="318.68" y="415.75" width="4.05" height="4.05" fill="#000"/><rect x="349.37" y="415.75" width="4.05" height="4.05" fill="#000"/><rect x="400.52" y="415.01" width="4.05" height="4.05" fill="#000"/><rect x="414.16" y="258.67" width="4.05" height="4.05" fill="#000"/><rect x="427.8" y="258.67" width="4.05" height="4.05" fill="#000"/><rect x="441.44" y="258.67" width="4.05" height="4.05" fill="#000"/><rect x="455.08" y="258.67" width="4.05" height="4.05" fill="#000"/><rect x="536.92" y="264.66" width="4.05" height="4.05" fill="#000"/>
<rect x="46.2" y="9.6" width="231" height="169.7" fill="none" stroke="#3a3a3a" stroke-width="1.1"/>
<rect x="313.4" y="8" width="230.6" height="171.5" fill="none" stroke="#3a3a3a" stroke-width="1.1"/>
<rect x="43.8" y="250.2" width="233.5" height="170.7" fill="none" stroke="#3a3a3a" stroke-width="1.1"/>
<rect x="313.6" y="250.6" width="232.5" height="170" fill="none" stroke="#3a3a3a" stroke-width="1.1"/>
<path d="M46.2 179.3V175.9M46.2 9.6V13M69.3 179.3V175.9M69.3 9.6V13M92.4 179.3V175.9M92.4 9.6V13M115.5 179.3V175.9M115.5 9.6V13M138.6 179.3V175.9M138.6 9.6V13M161.7 179.3V175.9M161.7 9.6V13M184.8 179.3V175.9M184.8 9.6V13M207.9 179.3V175.9M207.9 9.6V13M231 179.3V175.9M231 9.6V13M254.1 179.3V175.9M254.1 9.6V13M277.2 179.3V175.9M277.2 9.6V13" stroke="#3a3a3a" stroke-width="1" fill="none"/>
<path d="M57.75 179.3V177.3M57.75 9.6V11.6M80.85 179.3V177.3M80.85 9.6V11.6M103.95 179.3V177.3M103.95 9.6V11.6M127.05 179.3V177.3M127.05 9.6V11.6M150.15 179.3V177.3M150.15 9.6V11.6M173.25 179.3V177.3M173.25 9.6V11.6M196.35 179.3V177.3M196.35 9.6V11.6M219.45 179.3V177.3M219.45 9.6V11.6M242.55 179.3V177.3M242.55 9.6V11.6M265.65 179.3V177.3M265.65 9.6V11.6" stroke="#3a3a3a" stroke-width="1" fill="none"/>
<path d="M46.2 176.4H49.6M277.2 176.4H273.8M46.2 149.37H49.6M277.2 149.37H273.8M46.2 122.33H49.6M277.2 122.33H273.8M46.2 95.3H49.6M277.2 95.3H273.8M46.2 68.26H49.6M277.2 68.26H273.8M46.2 41.22H49.6M277.2 41.22H273.8M46.2 14.19H49.6M277.2 14.19H273.8" stroke="#3a3a3a" stroke-width="1" fill="none"/>
<path d="M46.2 162.88H48.2M277.2 162.88H275.2M46.2 135.85H48.2M277.2 135.85H275.2M46.2 108.81H48.2M277.2 108.81H275.2M46.2 81.78H48.2M277.2 81.78H275.2M46.2 54.74H48.2M277.2 54.74H275.2M46.2 27.71H48.2M277.2 27.71H275.2" stroke="#3a3a3a" stroke-width="1" fill="none"/>
<path d="M330.9 179.5V176.1M330.9 8V11.4M360.9 179.5V176.1M360.9 8V11.4M390.9 179.5V176.1M390.9 8V11.4M420.9 179.5V176.1M420.9 8V11.4M450.9 179.5V176.1M450.9 8V11.4M480.9 179.5V176.1M480.9 8V11.4M510.9 179.5V176.1M510.9 8V11.4M540.9 179.5V176.1M540.9 8V11.4" stroke="#3a3a3a" stroke-width="1" fill="none"/>
<path d="M315.9 179.5V177.5M315.9 8V10M345.9 179.5V177.5M345.9 8V10M375.9 179.5V177.5M375.9 8V10M405.9 179.5V177.5M405.9 8V10M435.9 179.5V177.5M435.9 8V10M465.9 179.5V177.5M465.9 8V10M495.9 179.5V177.5M495.9 8V10M525.9 179.5V177.5M525.9 8V10" stroke="#3a3a3a" stroke-width="1" fill="none"/>
<path d="M313.4 170.49H316.8M544 170.49H540.6M313.4 152.44H316.8M544 152.44H540.6M313.4 134.38H316.8M544 134.38H540.6M313.4 116.33H316.8M544 116.33H540.6M313.4 98.27H316.8M544 98.27H540.6M313.4 80.22H316.8M544 80.22H540.6M313.4 62.16H316.8M544 62.16H540.6M313.4 44.11H316.8M544 44.11H540.6M313.4 26.05H316.8M544 26.05H540.6M313.4 8H316.8M544 8H540.6" stroke="#3a3a3a" stroke-width="1" fill="none"/>
<path d="M313.4 179.52H315.4M544 179.52H542M313.4 161.47H315.4M544 161.47H542M313.4 143.41H315.4M544 143.41H542M313.4 125.36H315.4M544 125.36H542M313.4 107.3H315.4M544 107.3H542M313.4 89.25H315.4M544 89.25H542M313.4 71.19H315.4M544 71.19H542M313.4 53.14H315.4M544 53.14H542M313.4 35.08H315.4M544 35.08H542M313.4 17.03H315.4M544 17.03H542" stroke="#3a3a3a" stroke-width="1" fill="none"/>
<path d="M43.8 420.9V417.5M43.8 250.2V253.6M63.26 420.9V417.5M63.26 250.2V253.6M82.72 420.9V417.5M82.72 250.2V253.6M102.18 420.9V417.5M102.18 250.2V253.6M121.64 420.9V417.5M121.64 250.2V253.6M141.1 420.9V417.5M141.1 250.2V253.6M160.56 420.9V417.5M160.56 250.2V253.6M180.02 420.9V417.5M180.02 250.2V253.6M199.48 420.9V417.5M199.48 250.2V253.6M218.94 420.9V417.5M218.94 250.2V253.6M238.4 420.9V417.5M238.4 250.2V253.6M257.86 420.9V417.5M257.86 250.2V253.6M277.32 420.9V417.5M277.32 250.2V253.6" stroke="#3a3a3a" stroke-width="1" fill="none"/>
<path d="M53.53 420.9V418.9M53.53 250.2V252.2M72.99 420.9V418.9M72.99 250.2V252.2M92.45 420.9V418.9M92.45 250.2V252.2M111.91 420.9V418.9M111.91 250.2V252.2M131.37 420.9V418.9M131.37 250.2V252.2M150.83 420.9V418.9M150.83 250.2V252.2M170.29 420.9V418.9M170.29 250.2V252.2M189.75 420.9V418.9M189.75 250.2V252.2M209.21 420.9V418.9M209.21 250.2V252.2M228.67 420.9V418.9M228.67 250.2V252.2M248.13 420.9V418.9M248.13 250.2V252.2M267.59 420.9V418.9M267.59 250.2V252.2" stroke="#3a3a3a" stroke-width="1" fill="none"/>
<path d="M43.8 417.3H47.2M277.3 417.3H273.9M43.8 390.3H47.2M277.3 390.3H273.9M43.8 363.3H47.2M277.3 363.3H273.9M43.8 336.3H47.2M277.3 336.3H273.9M43.8 309.3H47.2M277.3 309.3H273.9M43.8 282.3H47.2M277.3 282.3H273.9M43.8 255.3H47.2M277.3 255.3H273.9" stroke="#3a3a3a" stroke-width="1" fill="none"/>
<path d="M43.8 403.8H45.8M277.3 403.8H275.3M43.8 376.8H45.8M277.3 376.8H275.3M43.8 349.8H45.8M277.3 349.8H275.3M43.8 322.8H45.8M277.3 322.8H275.3M43.8 295.8H45.8M277.3 295.8H275.3M43.8 268.8H45.8M277.3 268.8H275.3" stroke="#3a3a3a" stroke-width="1" fill="none"/>
<path d="M320.7 420.6V417.2M320.7 250.6V254M354.8 420.6V417.2M354.8 250.6V254M388.9 420.6V417.2M388.9 250.6V254M423 420.6V417.2M423 250.6V254M457.1 420.6V417.2M457.1 250.6V254M491.2 420.6V417.2M491.2 250.6V254M525.3 420.6V417.2M525.3 250.6V254" stroke="#3a3a3a" stroke-width="1" fill="none"/>
<path d="M337.75 420.6V418.6M337.75 250.6V252.6M371.85 420.6V418.6M371.85 250.6V252.6M405.95 420.6V418.6M405.95 250.6V252.6M440.05 420.6V418.6M440.05 250.6V252.6M474.15 420.6V418.6M474.15 250.6V252.6M508.25 420.6V418.6M508.25 250.6V252.6M542.35 420.6V418.6M542.35 250.6V252.6" stroke="#3a3a3a" stroke-width="1" fill="none"/>
<path d="M313.6 418.9H317M546.1 418.9H542.7M313.6 400.2H317M546.1 400.2H542.7M313.6 381.5H317M546.1 381.5H542.7M313.6 362.8H317M546.1 362.8H542.7M313.6 344.1H317M546.1 344.1H542.7M313.6 325.4H317M546.1 325.4H542.7M313.6 306.7H317M546.1 306.7H542.7M313.6 288H317M546.1 288H542.7M313.6 269.3H317M546.1 269.3H542.7M313.6 250.6H317M546.1 250.6H542.7" stroke="#3a3a3a" stroke-width="1" fill="none"/>
<path d="M313.6 409.55H315.6M546.1 409.55H544.1M313.6 390.85H315.6M546.1 390.85H544.1M313.6 372.15H315.6M546.1 372.15H544.1M313.6 353.45H315.6M546.1 353.45H544.1M313.6 334.75H315.6M546.1 334.75H544.1M313.6 316.05H315.6M546.1 316.05H544.1M313.6 297.35H315.6M546.1 297.35H544.1M313.6 278.65H315.6M546.1 278.65H544.1M313.6 259.95H315.6M546.1 259.95H544.1" stroke="#3a3a3a" stroke-width="1" fill="none"/>
<text x="46.2" y="188.6" font-size="7" text-anchor="middle" fill="#222">22</text>
<text x="69.3" y="188.6" font-size="7" text-anchor="middle" fill="#222">23</text>
<text x="92.4" y="188.6" font-size="7" text-anchor="middle" fill="#222">24</text>
<text x="115.5" y="188.6" font-size="7" text-anchor="middle" fill="#222">25</text>
<text x="138.6" y="188.6" font-size="7" text-anchor="middle" fill="#222">26</text>
<text x="161.7" y="188.6" font-size="7" text-anchor="middle" fill="#222">27</text>
<text x="184.8" y="188.6" font-size="7" text-anchor="middle" fill="#222">28</text>
<text x="207.9" y="188.6" font-size="7" text-anchor="middle" fill="#222">29</text>
<text x="231" y="188.6" font-size="7" text-anchor="middle" fill="#222">30</text>
<text x="254.1" y="188.6" font-size="7" text-anchor="middle" fill="#222">31</text>
<text x="277.2" y="188.6" font-size="7" text-anchor="middle" fill="#222">32</text>
<text x="42.1" y="178.9" font-size="7.0" text-anchor="end" fill="#222">0.0</text>
<text x="42" y="151.87" font-size="7.0" text-anchor="end" fill="#222">5.0x10<tspan dy="-2.9" font-size="4.6">5</tspan></text>
<text x="42" y="124.83" font-size="7.0" text-anchor="end" fill="#222">1.0x10<tspan dy="-2.9" font-size="4.6">6</tspan></text>
<text x="42" y="97.8" font-size="7.0" text-anchor="end" fill="#222">1.5x10<tspan dy="-2.9" font-size="4.6">6</tspan></text>
<text x="42" y="70.76" font-size="7.0" text-anchor="end" fill="#222">2.0x10<tspan dy="-2.9" font-size="4.6">6</tspan></text>
<text x="42" y="43.72" font-size="7.0" text-anchor="end" fill="#222">2.5x10<tspan dy="-2.9" font-size="4.6">6</tspan></text>
<text x="42" y="16.69" font-size="7.0" text-anchor="end" fill="#222">3.0x10<tspan dy="-2.9" font-size="4.6">6</tspan></text>
<text x="43.8" y="430.2" font-size="7" text-anchor="middle" fill="#222">22</text>
<text x="63.26" y="430.2" font-size="7" text-anchor="middle" fill="#222">24</text>
<text x="82.72" y="430.2" font-size="7" text-anchor="middle" fill="#222">26</text>
<text x="102.18" y="430.2" font-size="7" text-anchor="middle" fill="#222">28</text>
<text x="121.64" y="430.2" font-size="7" text-anchor="middle" fill="#222">30</text>
<text x="141.1" y="430.2" font-size="7" text-anchor="middle" fill="#222">32</text>
<text x="160.56" y="430.2" font-size="7" text-anchor="middle" fill="#222">34</text>
<text x="180.02" y="430.2" font-size="7" text-anchor="middle" fill="#222">36</text>
<text x="199.48" y="430.2" font-size="7" text-anchor="middle" fill="#222">38</text>
<text x="218.94" y="430.2" font-size="7" text-anchor="middle" fill="#222">40</text>
<text x="238.4" y="430.2" font-size="7" text-anchor="middle" fill="#222">42</text>
<text x="257.86" y="430.2" font-size="7" text-anchor="middle" fill="#222">44</text>
<text x="277.32" y="430.2" font-size="7" text-anchor="middle" fill="#222">46</text>
<text x="39.7" y="419.8" font-size="6.7" text-anchor="end" fill="#222">0.0</text>
<text x="38.6" y="392.8" font-size="6.7" text-anchor="end" fill="#222">5.0x10<tspan dy="-2.9" font-size="4.6">5</tspan></text>
<text x="38.6" y="365.8" font-size="6.7" text-anchor="end" fill="#222">1.0x10<tspan dy="-2.9" font-size="4.6">6</tspan></text>
<text x="38.6" y="338.8" font-size="6.7" text-anchor="end" fill="#222">1.5x10<tspan dy="-2.9" font-size="4.6">6</tspan></text>
<text x="38.6" y="311.8" font-size="6.7" text-anchor="end" fill="#222">2.0x10<tspan dy="-2.9" font-size="4.6">6</tspan></text>
<text x="38.6" y="284.8" font-size="6.7" text-anchor="end" fill="#222">2.5x10<tspan dy="-2.9" font-size="4.6">6</tspan></text>
<text x="38.6" y="257.8" font-size="6.7" text-anchor="end" fill="#222">3.0x10<tspan dy="-2.9" font-size="4.6">6</tspan></text>
<text x="330.9" y="188.8" font-size="7" text-anchor="middle" fill="#222">160</text>
<text x="360.9" y="188.8" font-size="7" text-anchor="middle" fill="#222">180</text>
<text x="390.9" y="188.8" font-size="7" text-anchor="middle" fill="#222">200</text>
<text x="420.9" y="188.8" font-size="7" text-anchor="middle" fill="#222">220</text>
<text x="450.9" y="188.8" font-size="7" text-anchor="middle" fill="#222">240</text>
<text x="480.9" y="188.8" font-size="7" text-anchor="middle" fill="#222">260</text>
<text x="510.9" y="188.8" font-size="7" text-anchor="middle" fill="#222">280</text>
<text x="540.9" y="188.8" font-size="7" text-anchor="middle" fill="#222">300</text>
<text x="309.6" y="172.99" font-size="7" text-anchor="end" fill="#222">50</text>
<text x="309.6" y="154.94" font-size="7" text-anchor="end" fill="#222">100</text>
<text x="309.6" y="136.88" font-size="7" text-anchor="end" fill="#222">150</text>
<text x="309.6" y="118.83" font-size="7" text-anchor="end" fill="#222">200</text>
<text x="309.6" y="100.77" font-size="7" text-anchor="end" fill="#222">250</text>
<text x="309.6" y="82.72" font-size="7" text-anchor="end" fill="#222">300</text>
<text x="309.6" y="64.66" font-size="7" text-anchor="end" fill="#222">350</text>
<text x="309.6" y="46.61" font-size="7" text-anchor="end" fill="#222">400</text>
<text x="309.6" y="28.55" font-size="7" text-anchor="end" fill="#222">450</text>
<text x="309.6" y="10.5" font-size="7" text-anchor="end" fill="#222">500</text>
<text x="320.7" y="429.9" font-size="7" text-anchor="middle" fill="#222">0</text>
<text x="354.8" y="429.9" font-size="7" text-anchor="middle" fill="#222">5</text>
<text x="388.9" y="429.9" font-size="7" text-anchor="middle" fill="#222">10</text>
<text x="423" y="429.9" font-size="7" text-anchor="middle" fill="#222">15</text>
<text x="457.1" y="429.9" font-size="7" text-anchor="middle" fill="#222">20</text>
<text x="491.2" y="429.9" font-size="7" text-anchor="middle" fill="#222">25</text>
<text x="525.3" y="429.9" font-size="7" text-anchor="middle" fill="#222">30</text>
<text x="309.8" y="421.4" font-size="7" text-anchor="end" fill="#222">50</text>
<text x="309.8" y="402.7" font-size="7" text-anchor="end" fill="#222">100</text>
<text x="309.8" y="384" font-size="7" text-anchor="end" fill="#222">150</text>
<text x="309.8" y="365.3" font-size="7" text-anchor="end" fill="#222">200</text>
<text x="309.8" y="346.6" font-size="7" text-anchor="end" fill="#222">250</text>
<text x="309.8" y="327.9" font-size="7" text-anchor="end" fill="#222">300</text>
<text x="309.8" y="309.2" font-size="7" text-anchor="end" fill="#222">350</text>
<text x="309.8" y="290.5" font-size="7" text-anchor="end" fill="#222">400</text>
<text x="309.8" y="271.8" font-size="7" text-anchor="end" fill="#222">450</text>
<text x="309.8" y="253.1" font-size="7" text-anchor="end" fill="#222">500</text>
<text x="14" y="99.5" font-size="8.3" text-anchor="middle" fill="#222" transform="rotate(-90 14 99.5)">E Field(V/cm)</text>
<text x="12.6" y="341" font-size="8.3" text-anchor="middle" fill="#222" transform="rotate(-90 12.6 341)">E Field(V/cm)</text>
<text x="161.3" y="202" font-size="8" text-anchor="middle" fill="#222">X(µm)</text>
<text x="160.5" y="443.5" font-size="8" text-anchor="middle" fill="#222">X(µm)</text>
<text x="99.7" y="0" font-size="7.8" text-anchor="middle" fill="#222" transform="translate(289.9 0) rotate(-90 0 0) translate(-199.4 0)">V<tspan font-size="5" dy="2.8">BD</tspan><tspan dy="-2.8">(V)</tspan></text>
<text x="342.6" y="0" font-size="7.8" text-anchor="middle" fill="#222" transform="translate(290.6 0) rotate(-90 0 0) translate(-685.2 0)">V<tspan font-size="5" dy="2.8">BD</tspan><tspan dy="-2.8">(V)</tspan></text>
<text x="427.8" y="202.3" font-size="8" text-anchor="middle" fill="#222">t<tspan font-size="5" dy="2">2</tspan><tspan dy="-2">(nm)</tspan></text>
<text x="430.2" y="444" font-size="8" text-anchor="middle" fill="#222">L<tspan font-size="5" dy="2">FP-S</tspan><tspan dy="-2">(µm)</tspan></text>
<text x="497.3" y="23.7" font-size="8.4" text-anchor="start" fill="#222">Vg=–6 V</text>
<text x="497.3" y="34.4" font-size="8.4" fill="#222">L<tspan font-size="5" dy="2">FP-S</tspan><tspan dy="-2">=18µm</tspan></text>
<text x="497.3" y="46.5" font-size="8.4" fill="#222">t<tspan font-size="5" dy="2.5">g</tspan><tspan dy="-2.5">=100nm</tspan></text>
<text x="499.7" y="389.3" font-size="8.4" text-anchor="start" fill="#222">Vg=–6 V</text>
<text x="499.7" y="400" font-size="8.4" fill="#222">t<tspan font-size="5" dy="2">2</tspan><tspan dy="-2">=220nm</tspan></text>
<text x="499.7" y="412" font-size="8.4" fill="#222">t<tspan font-size="5" dy="2.5">g</tspan><tspan dy="-2.5">=100nm</tspan></text>
<text x="158.6" y="222" font-size="15" text-anchor="middle" fill="#111" font-family="'Liberation Serif', 'Times New Roman', serif">(<tspan font-weight="bold">a</tspan>)</text>
<text x="430.2" y="221.5" font-size="15" text-anchor="middle" fill="#111" font-family="'Liberation Serif', 'Times New Roman', serif">(<tspan font-weight="bold">b</tspan>)</text>
<text x="158.8" y="463.5" font-size="15" text-anchor="middle" fill="#111" font-family="'Liberation Serif', 'Times New Roman', serif">(<tspan font-weight="bold">c</tspan>)</text>
<text x="429" y="462.5" font-size="15" text-anchor="middle" fill="#111" font-family="'Liberation Serif', 'Times New Roman', serif">(<tspan font-weight="bold">d</tspan>)</text>
<path d="M106.9 19.5H124.5" stroke="#888" stroke-width="0.8"/>
<rect x="113.98" y="17.48" width="4.05" height="4.05" fill="#000"/>
<text x="128.2" y="22.4" font-size="8" text-anchor="start" fill="#222">150nm-386V</text>
<path d="M106.9 30.05H124.5" stroke="#f66" stroke-width="0.8"/>
<circle cx="116" cy="30.05" r="2.2" fill="#f00"/>
<text x="128.2" y="32.95" font-size="8" text-anchor="start" fill="#222">200nm-447V</text>
<path d="M106.9 40.6H124.5" stroke="#66f" stroke-width="0.8"/>
<path d="M116 38.07L118.42 42.47L113.58 42.47Z" fill="#00f"/>
<text x="128.2" y="43.5" font-size="8" text-anchor="start" fill="#222">220nm-473V</text>
<path d="M106.9 51.15H124.5" stroke="#f8f" stroke-width="0.8"/>
<path d="M116 53.68L118.42 49.28L113.58 49.28Z" fill="#f0f"/>
<text x="128.2" y="54.05" font-size="8" text-anchor="start" fill="#222">250nm-71V</text>
<path d="M106.9 61.7H124.5" stroke="#6a6" stroke-width="0.8"/>
<path d="M116 59.06L118.42 61.7L116 64.34L113.58 61.7Z" fill="#008000"/>
<text x="128.2" y="64.6" font-size="8" text-anchor="start" fill="#222">300nm-63V</text>
<path d="M181.2 258.1H196.7" stroke="#888" stroke-width="0.8"/>
<rect x="187.57" y="256.17" width="3.86" height="3.86" fill="#000"/>
<text x="198.9" y="260.6" font-size="7" text-anchor="start" fill="#222">0µm-53V</text>
<path d="M181.2 266.79H196.7" stroke="#f66" stroke-width="0.8"/>
<circle cx="189.5" cy="266.79" r="2.1" fill="#f00"/>
<text x="198.9" y="269.29" font-size="7" text-anchor="start" fill="#222">4.5µm-53V</text>
<path d="M181.2 275.48H196.7" stroke="#66f" stroke-width="0.8"/>
<path d="M189.5 273.06L191.81 277.27L187.19 277.27Z" fill="#00f"/>
<text x="198.9" y="277.98" font-size="7" text-anchor="start" fill="#222">12µm-55V</text>
<path d="M181.2 284.17H196.7" stroke="#f8f" stroke-width="0.8"/>
<path d="M189.5 286.59L191.81 282.38L187.19 282.38Z" fill="#f0f"/>
<text x="198.9" y="286.67" font-size="7" text-anchor="start" fill="#222">14µm-473V</text>
<path d="M181.2 292.86H196.7" stroke="#6a6" stroke-width="0.8"/>
<path d="M189.5 290.34L191.81 292.86L189.5 295.38L187.19 292.86Z" fill="#008000"/>
<text x="198.9" y="295.36" font-size="7" text-anchor="start" fill="#222">16µm-473V</text>
<path d="M181.2 301.55H196.7" stroke="#66a" stroke-width="0.8"/>
<path d="M187.09 301.55L191.28 299.24L191.28 303.86Z" fill="#000080"/>
<text x="198.9" y="304.05" font-size="7" text-anchor="start" fill="#222">18µm-473V</text>
<path d="M181.2 310.24H196.7" stroke="#a6f" stroke-width="0.8"/>
<path d="M191.91 310.24L187.72 307.93L187.72 312.55Z" fill="#8000ff"/>
<text x="198.9" y="312.74" font-size="7" text-anchor="start" fill="#222">20µm-473V</text>
<path d="M181.2 318.93H196.7" stroke="#c8c" stroke-width="0.8"/>
<circle cx="189.5" cy="318.93" r="2.1" fill="#800080"/>
<text x="198.9" y="321.43" font-size="7" text-anchor="start" fill="#222">32µm-457V</text>
</svg>
</body></html>
